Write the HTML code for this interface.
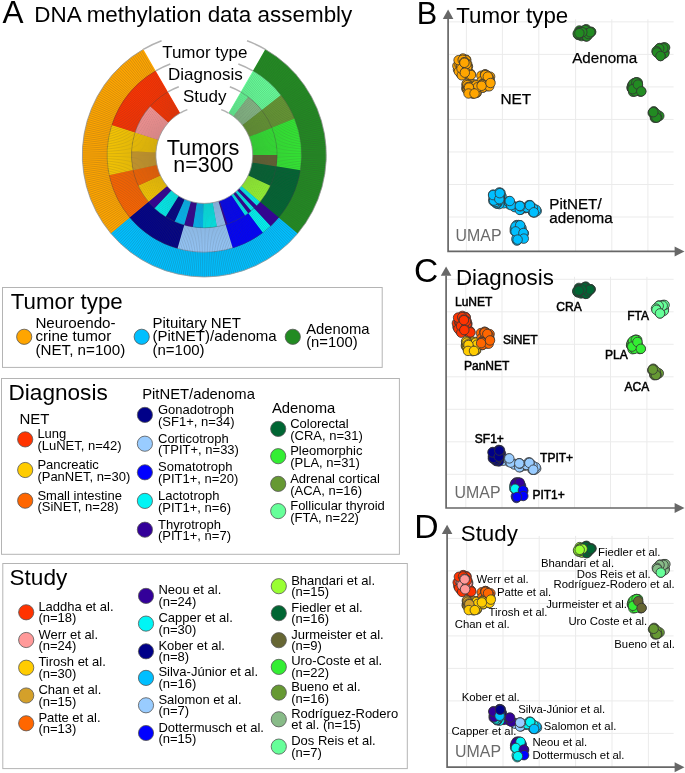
<!DOCTYPE html><html><head><meta charset="utf-8"><title>DNA methylation data assembly</title><style>html,body{margin:0;padding:0;background:#fff;}svg{display:block;}</style></head><body><svg width="685" height="773" viewBox="0 0 685 773" font-family="'Liberation Sans', Arial, Helvetica, sans-serif"><g id="sunburst"><path d="M265.88,50.03A121.7,121.7 0 1 1 142.72,50.03L179.66,113.00A48.699999999999996,48.699999999999996 0 1 0 228.94,113.00Z" fill="#555"/><path d="M265.30,49.34A122.0,122.0 0 0 1 297.41,233.83L278.37,217.71A97.05,97.05 0 0 0 252.82,70.95Z" fill="#228B22"/><path d="M297.76,233.42A122.0,122.0 0 0 1 110.50,233.01L129.68,217.06A97.05,97.05 0 0 0 278.64,217.38Z" fill="#00BFFF"/><path d="M110.84,233.42A122.0,122.0 0 0 1 143.30,49.34L155.77,70.95A97.05,97.05 0 0 0 129.96,217.38Z" fill="#FFA500"/><path d="M252.98,70.69A97.35000000000001,97.35000000000001 0 0 1 281.27,95.40L261.74,110.52A72.64999999999999,72.64999999999999 0 0 0 240.62,92.08Z" fill="#66FF99"/><path d="M281.01,95.07A97.35000000000001,97.35000000000001 0 0 1 294.72,118.93L271.78,128.08A72.64999999999999,72.64999999999999 0 0 0 261.55,110.27Z" fill="#669933"/><path d="M294.56,118.53A97.35000000000001,97.35000000000001 0 0 1 300.38,170.65L276.01,166.68A72.64999999999999,72.64999999999999 0 0 0 271.66,127.78Z" fill="#33EE33"/><path d="M300.45,170.23A97.35000000000001,97.35000000000001 0 0 1 278.60,217.90L259.75,201.94A72.64999999999999,72.64999999999999 0 0 0 276.06,166.36Z" fill="#006633"/><path d="M278.87,217.58A97.35000000000001,97.35000000000001 0 0 1 270.38,226.49L253.61,208.35A72.64999999999999,72.64999999999999 0 0 0 259.95,201.70Z" fill="#330099"/><path d="M270.69,226.20A97.35000000000001,97.35000000000001 0 0 1 262.55,233.00L247.77,213.21A72.64999999999999,72.64999999999999 0 0 0 253.85,208.13Z" fill="#00F5F5"/><path d="M262.89,232.75A97.35000000000001,97.35000000000001 0 0 1 232.36,248.22L225.24,224.57A72.64999999999999,72.64999999999999 0 0 0 248.02,213.02Z" fill="#0000FF"/><path d="M232.76,248.10A97.35000000000001,97.35000000000001 0 0 1 177.06,248.46L183.97,224.75A72.64999999999999,72.64999999999999 0 0 0 225.54,224.48Z" fill="#99CCFF"/><path d="M177.47,248.58A97.35000000000001,97.35000000000001 0 0 1 129.45,217.25L148.44,201.46A72.64999999999999,72.64999999999999 0 0 0 184.27,224.84Z" fill="#000088"/><path d="M129.73,217.58A97.35000000000001,97.35000000000001 0 0 1 108.99,174.82L133.17,169.79A72.64999999999999,72.64999999999999 0 0 0 148.65,201.70Z" fill="#FF6600"/><path d="M109.08,175.24A97.35000000000001,97.35000000000001 0 0 1 111.85,124.51L135.30,132.25A72.64999999999999,72.64999999999999 0 0 0 133.24,170.10Z" fill="#FFCC00"/><path d="M111.71,124.92A97.35000000000001,97.35000000000001 0 0 1 155.62,70.69L167.97,92.08A72.64999999999999,72.64999999999999 0 0 0 135.21,132.55Z" fill="#FF3300"/><path d="M240.78,91.82A72.95,72.95 0 0 1 248.46,96.93L233.60,116.47A48.4,48.4 0 0 0 228.50,113.08Z" fill="#66FF99"/><path d="M248.20,96.74A72.95,72.95 0 0 1 261.98,110.34L242.57,125.37A48.4,48.4 0 0 0 233.43,116.35Z" fill="#88BB88"/><path d="M261.79,110.09A72.95,72.95 0 0 1 272.06,127.97L249.25,137.07A48.4,48.4 0 0 0 242.44,125.20Z" fill="#669933"/><path d="M271.94,127.67A72.95,72.95 0 0 1 277.25,155.32L252.70,155.21A48.4,48.4 0 0 0 249.18,136.87Z" fill="#33EE33"/><path d="M277.25,155.00A72.95,72.95 0 0 1 276.30,166.73L252.07,162.78A48.4,48.4 0 0 0 252.70,155.00Z" fill="#666633"/><path d="M276.35,166.41A72.95,72.95 0 0 1 270.28,186.12L248.08,175.65A48.4,48.4 0 0 0 252.10,162.57Z" fill="#006633"/><path d="M270.42,185.83A72.95,72.95 0 0 1 259.98,202.13L241.24,186.27A48.4,48.4 0 0 0 248.17,175.45Z" fill="#99FF33"/><path d="M260.18,201.89A72.95,72.95 0 0 1 256.55,205.90L238.97,188.77A48.4,48.4 0 0 0 241.38,186.11Z" fill="#00F5F5"/><path d="M256.78,205.68A72.95,72.95 0 0 1 253.82,208.57L237.15,190.54A48.4,48.4 0 0 0 239.12,188.62Z" fill="#330099"/><path d="M254.05,208.35A72.95,72.95 0 0 1 250.95,211.09L235.25,192.21A48.4,48.4 0 0 0 237.31,190.40Z" fill="#00F5F5"/><path d="M251.19,210.88A72.95,72.95 0 0 1 247.95,213.45L233.26,193.78A48.4,48.4 0 0 0 235.41,192.08Z" fill="#330099"/><path d="M248.20,213.26A72.95,72.95 0 0 1 244.83,215.66L231.19,195.24A48.4,48.4 0 0 0 233.43,193.65Z" fill="#00F5F5"/><path d="M245.09,215.48A72.95,72.95 0 0 1 227.15,224.28L219.46,200.97A48.4,48.4 0 0 0 231.36,195.13Z" fill="#0000FF"/><path d="M227.45,224.18A72.95,72.95 0 0 1 225.32,224.85L218.25,201.35A48.4,48.4 0 0 0 219.66,200.90Z" fill="#330099"/><path d="M225.63,224.76A72.95,72.95 0 0 1 216.65,226.90L212.50,202.70A48.4,48.4 0 0 0 218.45,201.29Z" fill="#99CCFF"/><path d="M216.97,226.84A72.95,72.95 0 0 1 202.71,227.93L203.24,203.39A48.4,48.4 0 0 0 212.70,202.66Z" fill="#00F5F5"/><path d="M203.03,227.94A72.95,72.95 0 0 1 192.57,227.00L196.52,202.77A48.4,48.4 0 0 0 203.46,203.39Z" fill="#00BFFF"/><path d="M192.89,227.05A72.95,72.95 0 0 1 183.89,225.04L190.76,201.47A48.4,48.4 0 0 0 196.73,202.80Z" fill="#330099"/><path d="M184.19,225.12A72.95,72.95 0 0 1 174.34,221.51L184.42,199.13A48.4,48.4 0 0 0 190.96,201.53Z" fill="#00BFFF"/><path d="M174.63,221.64A72.95,72.95 0 0 1 165.37,216.70L178.47,195.93A48.4,48.4 0 0 0 184.61,199.22Z" fill="#000088"/><path d="M165.64,216.87A72.95,72.95 0 0 1 154.32,208.13L171.14,190.25A48.4,48.4 0 0 0 178.65,196.05Z" fill="#00F5F5"/><path d="M154.55,208.35A72.95,72.95 0 0 1 148.21,201.65L167.09,185.95A48.4,48.4 0 0 0 171.29,190.40Z" fill="#330099"/><path d="M148.42,201.89A72.95,72.95 0 0 1 138.05,185.54L160.35,175.26A48.4,48.4 0 0 0 167.22,186.11Z" fill="#FFCC00"/><path d="M138.18,185.83A72.95,72.95 0 0 1 132.88,169.86L156.91,164.86A48.4,48.4 0 0 0 160.43,175.45Z" fill="#FF6600"/><path d="M132.94,170.17A72.95,72.95 0 0 1 131.47,150.86L155.98,152.26A48.4,48.4 0 0 0 156.96,165.06Z" fill="#D4A02A"/><path d="M131.45,151.18A72.95,72.95 0 0 1 135.02,132.15L158.33,139.84A48.4,48.4 0 0 0 155.97,152.47Z" fill="#FFCC00"/><path d="M134.92,132.46A72.95,72.95 0 0 1 150.30,105.95L168.47,122.46A48.4,48.4 0 0 0 158.27,140.04Z" fill="#FF9999"/><path d="M150.09,106.19A72.95,72.95 0 0 1 167.82,91.82L180.10,113.08A48.4,48.4 0 0 0 168.33,122.61Z" fill="#FF3300"/><path d="M229.23,113.51L267.13,50.43M229.95,113.95L268.95,51.54M230.66,114.41L270.75,52.68M231.36,114.87L272.52,53.86M232.06,115.35L274.28,55.06M232.75,115.84L276.01,56.30M233.43,116.35L277.72,57.57M234.10,116.86L279.41,58.86M234.76,117.39L281.08,60.19M235.41,117.92L282.72,61.54M236.05,118.47L284.34,62.93M236.69,119.03L285.93,64.34M237.31,119.60L287.50,65.77M237.92,120.18L289.05,67.24M238.52,120.78L290.57,68.73M239.12,121.38L292.06,70.25M239.70,121.99L293.53,71.80M240.27,122.61L294.96,73.37M240.83,123.25L296.37,74.96M241.38,123.89L297.76,76.58M241.91,124.54L299.11,78.22M242.44,125.20L300.44,79.89M242.95,125.87L301.73,81.58M243.46,126.55L303.00,83.29M243.95,127.24L304.24,85.02M244.43,127.94L305.44,86.78M244.89,128.64L306.62,88.55M245.35,129.35L307.76,90.35M245.79,130.07L308.87,92.17M246.22,130.80L309.96,94.00M246.63,131.54L311.00,95.85M247.03,132.28L312.02,97.72M247.42,133.03L313.00,99.61M247.80,133.78L313.95,101.52M248.17,134.55L314.87,103.44M248.52,135.31L315.75,105.38M248.85,136.09L316.60,107.33M249.18,136.87L317.42,109.30M249.49,137.65L318.20,111.28M249.78,138.45L318.94,113.27M250.06,139.24L319.65,115.28M250.33,140.04L320.33,117.30M250.59,140.85L320.97,119.33M250.83,141.66L321.57,121.37M251.05,142.47L322.14,123.42M251.26,143.29L322.68,125.49M251.46,144.11L323.17,127.56M251.64,144.94L323.63,129.63M251.81,145.76L324.06,131.72M251.96,146.60L324.45,133.81M252.10,147.43L324.80,135.91M252.23,148.26L325.11,138.02M252.34,149.10L325.39,140.13M252.43,149.94L325.63,142.25M252.52,150.78L325.84,144.37M252.58,151.62L326.00,146.49M252.63,152.47L326.13,148.62M252.67,153.31L326.23,150.74M252.69,154.16L326.28,152.87M252.70,155.00L326.30,155.00M252.69,155.84L326.28,157.13M252.67,156.69L326.23,159.26M252.63,157.53L326.13,161.38M252.58,158.38L326.00,163.51M252.52,159.22L325.84,165.63M252.43,160.06L325.63,167.75M252.34,160.90L325.39,169.87M252.23,161.74L325.11,171.98M252.10,162.57L324.80,174.09M251.96,163.40L324.45,176.19M251.81,164.24L324.06,178.28M251.64,165.06L323.63,180.37M251.46,165.89L323.17,182.44M251.26,166.71L322.68,184.51M251.05,167.53L322.14,186.58M250.83,168.34L321.57,188.63M250.59,169.15L320.97,190.67M250.33,169.96L320.33,192.70M250.06,170.76L319.65,194.72M249.78,171.55L318.94,196.73M249.49,172.35L318.20,198.72M249.18,173.13L317.42,200.70M248.85,173.91L316.60,202.67M248.52,174.69L315.75,204.62M248.17,175.45L314.87,206.56M247.80,176.22L313.95,208.48M247.42,176.97L313.00,210.39M247.03,177.72L312.02,212.28M246.63,178.46L311.00,214.15M246.22,179.20L309.96,216.00M245.79,179.93L308.87,217.83M245.35,180.65L307.76,219.65M244.89,181.36L306.62,221.45M244.43,182.06L305.44,223.22M243.95,182.76L304.24,224.98M243.46,183.45L303.00,226.71M242.95,184.13L301.73,228.42M242.44,184.80L300.44,230.11M241.91,185.46L299.11,231.78M241.38,186.11L297.76,233.42M240.83,186.75L296.37,235.04M240.27,187.39L294.96,236.63M239.70,188.01L293.53,238.20M239.12,188.62L292.06,239.75M238.52,189.22L290.57,241.27M237.92,189.82L289.05,242.76M237.31,190.40L287.50,244.23M236.69,190.97L285.93,245.66M236.05,191.53L284.34,247.07M235.41,192.08L282.72,248.46M234.76,192.61L281.08,249.81M234.10,193.14L279.41,251.14M233.43,193.65L277.72,252.43M232.75,194.16L276.01,253.70M232.06,194.65L274.28,254.94M231.36,195.13L272.52,256.14M230.66,195.59L270.75,257.32M229.95,196.05L268.95,258.46M229.23,196.49L267.13,259.57M228.50,196.92L265.30,260.66M227.76,197.33L263.45,261.70M227.02,197.73L261.58,262.72M226.27,198.12L259.69,263.70M225.52,198.50L257.78,264.65M224.75,198.87L255.86,265.57M223.99,199.22L253.92,266.45M223.21,199.55L251.97,267.30M222.43,199.88L250.00,268.12M221.65,200.19L248.02,268.90M220.85,200.48L246.03,269.64M220.06,200.76L244.02,270.35M219.26,201.03L242.00,271.03M218.45,201.29L239.97,271.67M217.64,201.53L237.93,272.27M216.83,201.75L235.88,272.84M216.01,201.96L233.81,273.38M215.19,202.16L231.74,273.87M214.36,202.34L229.67,274.33M213.54,202.51L227.58,274.76M212.70,202.66L225.49,275.15M211.87,202.80L223.39,275.50M211.04,202.93L221.28,275.81M210.20,203.04L219.17,276.09M209.36,203.13L217.05,276.33M208.52,203.22L214.93,276.54M207.68,203.28L212.81,276.70M206.83,203.33L210.68,276.83M205.99,203.37L208.56,276.93M205.14,203.39L206.43,276.98M204.30,203.40L204.30,277.00M203.46,203.39L202.17,276.98M202.61,203.37L200.04,276.93M201.77,203.33L197.92,276.83M200.92,203.28L195.79,276.70M200.08,203.22L193.67,276.54M199.24,203.13L191.55,276.33M198.40,203.04L189.43,276.09M197.56,202.93L187.32,275.81M196.73,202.80L185.21,275.50M195.90,202.66L183.11,275.15M195.06,202.51L181.02,274.76M194.24,202.34L178.93,274.33M193.41,202.16L176.86,273.87M192.59,201.96L174.79,273.38M191.77,201.75L172.72,272.84M190.96,201.53L170.67,272.27M190.15,201.29L168.63,271.67M189.34,201.03L166.60,271.03M188.54,200.76L164.58,270.35M187.75,200.48L162.57,269.64M186.95,200.19L160.58,268.90M186.17,199.88L158.60,268.12M185.39,199.55L156.63,267.30M184.61,199.22L154.68,266.45M183.85,198.87L152.74,265.57M183.08,198.50L150.82,264.65M182.33,198.12L148.91,263.70M181.58,197.73L147.02,262.72M180.84,197.33L145.15,261.70M180.10,196.92L143.30,260.66M179.37,196.49L141.47,259.57M178.65,196.05L139.65,258.46M177.94,195.59L137.85,257.32M177.24,195.13L136.08,256.14M176.54,194.65L134.32,254.94M175.85,194.16L132.59,253.70M175.17,193.65L130.88,252.43M174.50,193.14L129.19,251.14M173.84,192.61L127.52,249.81M173.19,192.08L125.88,248.46M172.55,191.53L124.26,247.07M171.91,190.97L122.67,245.66M171.29,190.40L121.10,244.23M170.68,189.82L119.55,242.76M170.08,189.22L118.03,241.27M169.48,188.62L116.54,239.75M168.90,188.01L115.07,238.20M168.33,187.39L113.64,236.63M167.77,186.75L112.23,235.04M167.22,186.11L110.84,233.42M166.69,185.46L109.49,231.78M166.16,184.80L108.16,230.11M165.65,184.13L106.87,228.42M165.14,183.45L105.60,226.71M164.65,182.76L104.36,224.98M164.17,182.06L103.16,223.22M163.71,181.36L101.98,221.45M163.25,180.65L100.84,219.65M162.81,179.93L99.73,217.83M162.38,179.20L98.64,216.00M161.97,178.46L97.60,214.15M161.57,177.72L96.58,212.28M161.18,176.97L95.60,210.39M160.80,176.22L94.65,208.48M160.43,175.45L93.73,206.56M160.08,174.69L92.85,204.62M159.75,173.91L92.00,202.67M159.42,173.13L91.18,200.70M159.11,172.35L90.40,198.72M158.82,171.55L89.66,196.73M158.54,170.76L88.95,194.72M158.27,169.96L88.27,192.70M158.01,169.15L87.63,190.67M157.77,168.34L87.03,188.63M157.55,167.53L86.46,186.58M157.34,166.71L85.92,184.51M157.14,165.89L85.43,182.44M156.96,165.06L84.97,180.37M156.79,164.24L84.54,178.28M156.64,163.40L84.15,176.19M156.50,162.57L83.80,174.09M156.37,161.74L83.49,171.98M156.26,160.90L83.21,169.87M156.17,160.06L82.97,167.75M156.08,159.22L82.76,165.63M156.02,158.38L82.60,163.51M155.97,157.53L82.47,161.38M155.93,156.69L82.37,159.26M155.91,155.84L82.32,157.13M155.90,155.00L82.30,155.00M155.91,154.16L82.32,152.87M155.93,153.31L82.37,150.74M155.97,152.47L82.47,148.62M156.02,151.62L82.60,146.49M156.08,150.78L82.76,144.37M156.17,149.94L82.97,142.25M156.26,149.10L83.21,140.13M156.37,148.26L83.49,138.02M156.50,147.43L83.80,135.91M156.64,146.60L84.15,133.81M156.79,145.76L84.54,131.72M156.96,144.94L84.97,129.63M157.14,144.11L85.43,127.56M157.34,143.29L85.92,125.49M157.55,142.47L86.46,123.42M157.77,141.66L87.03,121.37M158.01,140.85L87.63,119.33M158.27,140.04L88.27,117.30M158.54,139.24L88.95,115.28M158.82,138.45L89.66,113.27M159.11,137.65L90.40,111.28M159.42,136.87L91.18,109.30M159.75,136.09L92.00,107.33M160.08,135.31L92.85,105.38M160.43,134.55L93.73,103.44M160.80,133.78L94.65,101.52M161.18,133.03L95.60,99.61M161.57,132.28L96.58,97.72M161.97,131.54L97.60,95.85M162.38,130.80L98.64,94.00M162.81,130.07L99.73,92.17M163.25,129.35L100.84,90.35M163.71,128.64L101.98,88.55M164.17,127.94L103.16,86.78M164.65,127.24L104.36,85.02M165.14,126.55L105.60,83.29M165.65,125.87L106.87,81.58M166.16,125.20L108.16,79.89M166.69,124.54L109.49,78.22M167.22,123.89L110.84,76.58M167.77,123.25L112.23,74.96M168.33,122.61L113.64,73.37M168.90,121.99L115.07,71.80M169.48,121.38L116.54,70.25M170.08,120.78L118.03,68.73M170.68,120.18L119.55,67.24M171.29,119.60L121.10,65.77M171.91,119.03L122.67,64.34M172.55,118.47L124.26,62.93M173.19,117.92L125.88,61.54M173.84,117.39L127.52,60.19M174.50,116.86L129.19,58.86M175.17,116.35L130.88,57.57M175.85,115.84L132.59,56.30M176.54,115.35L134.32,55.06M177.24,114.87L136.08,53.86M177.94,114.41L137.85,52.68M178.65,113.95L139.65,51.54M179.37,113.51L141.47,50.43" stroke="#404040" stroke-opacity="0.42" stroke-width="0.5" fill="none"/><path d="M252.90,70.82A97.2,97.2 0 1 1 155.70,70.82" stroke="#444" stroke-opacity="0.5" stroke-width="0.6" fill="none"/><path d="M240.70,91.95A72.8,72.8 0 1 1 167.90,91.95" stroke="#444" stroke-opacity="0.5" stroke-width="0.6" fill="none"/><path d="M265.30,49.34A122.0,122.0 0 1 1 143.30,49.34" stroke="#999" stroke-width="0.8" fill="none"/><path d="M228.50,113.08A48.4,48.4 0 1 1 180.10,113.08" stroke="#999" stroke-width="0.8" fill="none"/><path d="M247.03,40.73A122.0,122.0 0 0 1 265.30,49.34" stroke="#b2b2b2" stroke-width="1.5" fill="none"/><path d="M143.30,49.34A122.0,122.0 0 0 1 161.57,40.73" stroke="#b2b2b2" stroke-width="1.5" fill="none"/><path d="M238.34,63.96A97.2,97.2 0 0 1 252.90,70.82" stroke="#b2b2b2" stroke-width="1.5" fill="none"/><path d="M155.70,70.82A97.2,97.2 0 0 1 170.26,63.96" stroke="#b2b2b2" stroke-width="1.5" fill="none"/><path d="M229.80,86.81A72.8,72.8 0 0 1 240.70,91.95" stroke="#b2b2b2" stroke-width="1.5" fill="none"/><path d="M167.90,91.95A72.8,72.8 0 0 1 178.80,86.81" stroke="#b2b2b2" stroke-width="1.5" fill="none"/><path d="M221.25,109.67A48.4,48.4 0 0 1 228.50,113.08" stroke="#b2b2b2" stroke-width="1.5" fill="none"/><path d="M180.10,113.08A48.4,48.4 0 0 1 187.35,109.67" stroke="#b2b2b2" stroke-width="1.5" fill="none"/></g><text x="2.6" y="22.6" font-size="31.5" fill="#000" text-anchor="start" >A</text><text x="34.3" y="22.3" font-size="22.45" fill="#000" text-anchor="start" >DNA methylation data assembly</text><text x="204.8" y="57.5" font-size="17" fill="#000" text-anchor="middle" >Tumor type</text><text x="205.4" y="79.8" font-size="17" fill="#000" text-anchor="middle" >Diagnosis</text><text x="204.7" y="101.5" font-size="17" fill="#000" text-anchor="middle" >Study</text><text x="203.0" y="154.7" font-size="21.7" fill="#000" text-anchor="middle" >Tumors</text><text x="203.4" y="171.8" font-size="21.4" fill="#000" text-anchor="middle" >n=300</text><rect x="2.5" y="287.5" width="379.7" height="79.89999999999998" fill="none" stroke="#b4b4b4" stroke-width="1"/><text x="10.8" y="309.2" font-size="22.3" fill="#000" text-anchor="start" >Tumor type</text><circle cx="24.2" cy="336.8" r="7.6" fill="#FFA500" stroke="#555" stroke-width="0.8"/><text x="35.4" y="327.6" font-size="15.2" fill="#000" text-anchor="start" >Neuroendo-</text><text x="35.4" y="341.1" font-size="15.2" fill="#000" text-anchor="start" >crine tumor</text><text x="35.4" y="354.6" font-size="15.2" fill="#000" text-anchor="start" >(NET, n=100)</text><circle cx="141.7" cy="336.8" r="7.6" fill="#00BFFF" stroke="#555" stroke-width="0.8"/><text x="152.5" y="328.0" font-size="15.0" fill="#000" text-anchor="start" >Pituitary NET</text><text x="152.5" y="341.3" font-size="15.0" fill="#000" text-anchor="start" >(PitNET)/adenoma</text><text x="152.5" y="354.6" font-size="15.0" fill="#000" text-anchor="start" >(n=100)</text><circle cx="292.8" cy="336.8" r="7.6" fill="#228B22" stroke="#555" stroke-width="0.8"/><text x="306.2" y="333.8" font-size="14.8" fill="#000" text-anchor="start" >Adenoma</text><text x="306.2" y="346.6" font-size="14.8" fill="#000" text-anchor="start" >(n=100)</text><rect x="1.5" y="378.5" width="397.9" height="175.79999999999995" fill="none" stroke="#b4b4b4" stroke-width="1"/><text x="8.5" y="399.9" font-size="22.6" fill="#000" text-anchor="start" >Diagnosis</text><text x="19.4" y="423.5" font-size="15" fill="#000" text-anchor="start" >NET</text><text x="142.2" y="398.9" font-size="14.8" fill="#000" text-anchor="start" >PitNET/adenoma</text><text x="272.0" y="413.1" font-size="14.8" fill="#000" text-anchor="start" >Adenoma</text><circle cx="25.2" cy="439.4" r="7.6" fill="#FF3300" stroke="#555" stroke-width="0.8"/><text x="37.4" y="438.2" font-size="13" fill="#000" text-anchor="start" >Lung</text><text x="37.4" y="450.0" font-size="13" fill="#000" text-anchor="start" >(LuNET, n=42)</text><circle cx="25.2" cy="470.0" r="7.6" fill="#FFCC00" stroke="#555" stroke-width="0.8"/><text x="37.4" y="468.8" font-size="13" fill="#000" text-anchor="start" >Pancreatic</text><text x="37.4" y="480.6" font-size="13" fill="#000" text-anchor="start" >(PanNET, n=30)</text><circle cx="25.2" cy="500.7" r="7.6" fill="#FF6600" stroke="#555" stroke-width="0.8"/><text x="37.4" y="499.5" font-size="13" fill="#000" text-anchor="start" >Small intestine</text><text x="37.4" y="511.3" font-size="13" fill="#000" text-anchor="start" >(SiNET, n=28)</text><circle cx="144.9" cy="414.9" r="7.6" fill="#000088" stroke="#555" stroke-width="0.8"/><text x="158.0" y="413.7" font-size="13" fill="#000" text-anchor="start" >Gonadotroph</text><text x="158.0" y="425.5" font-size="13" fill="#000" text-anchor="start" >(SF1+, n=34)</text><circle cx="144.9" cy="443.7" r="7.6" fill="#99CCFF" stroke="#555" stroke-width="0.8"/><text x="158.0" y="442.5" font-size="13" fill="#000" text-anchor="start" >Corticotroph</text><text x="158.0" y="454.3" font-size="13" fill="#000" text-anchor="start" >(TPIT+, n=33)</text><circle cx="144.9" cy="472.3" r="7.6" fill="#0000FF" stroke="#555" stroke-width="0.8"/><text x="158.0" y="471.1" font-size="13" fill="#000" text-anchor="start" >Somatotroph</text><text x="158.0" y="482.90000000000003" font-size="13" fill="#000" text-anchor="start" >(PIT1+, n=20)</text><circle cx="144.9" cy="500.9" r="7.6" fill="#00F5F5" stroke="#555" stroke-width="0.8"/><text x="158.0" y="499.7" font-size="13" fill="#000" text-anchor="start" >Lactotroph</text><text x="158.0" y="511.5" font-size="13" fill="#000" text-anchor="start" >(PIT1+, n=6)</text><circle cx="144.9" cy="529.7" r="7.6" fill="#330099" stroke="#555" stroke-width="0.8"/><text x="158.0" y="528.5" font-size="13" fill="#000" text-anchor="start" >Thyrotroph</text><text x="158.0" y="540.3000000000001" font-size="13" fill="#000" text-anchor="start" >(PIT1+, n=7)</text><circle cx="278.2" cy="428.9" r="7.6" fill="#006633" stroke="#555" stroke-width="0.8"/><text x="290.2" y="427.7" font-size="13" fill="#000" text-anchor="start" >Colorectal</text><text x="290.2" y="439.5" font-size="13" fill="#000" text-anchor="start" >(CRA, n=31)</text><circle cx="278.2" cy="456.2" r="7.6" fill="#33EE33" stroke="#555" stroke-width="0.8"/><text x="290.2" y="455.0" font-size="13" fill="#000" text-anchor="start" >Pleomorphic</text><text x="290.2" y="466.8" font-size="13" fill="#000" text-anchor="start" >(PLA, n=31)</text><circle cx="278.2" cy="483.9" r="7.6" fill="#669933" stroke="#555" stroke-width="0.8"/><text x="290.2" y="482.7" font-size="13" fill="#000" text-anchor="start" >Adrenal cortical</text><text x="290.2" y="494.5" font-size="13" fill="#000" text-anchor="start" >(ACA, n=16)</text><circle cx="278.2" cy="511.1" r="7.6" fill="#66FF99" stroke="#555" stroke-width="0.8"/><text x="290.2" y="509.90000000000003" font-size="13" fill="#000" text-anchor="start" >Follicular thyroid</text><text x="290.2" y="521.7" font-size="13" fill="#000" text-anchor="start" >(FTA, n=22)</text><rect x="2.8" y="563.5" width="404.5" height="205.10000000000002" fill="none" stroke="#b4b4b4" stroke-width="1"/><text x="9.5" y="585.3" font-size="22.6" fill="#000" text-anchor="start" >Study</text><circle cx="26.2" cy="612.3" r="7.6" fill="#FF3300" stroke="#555" stroke-width="0.8"/><text x="38.4" y="610.8" font-size="13" fill="#000" text-anchor="start" >Laddha et al.</text><text x="38.4" y="622.4" font-size="13" fill="#000" text-anchor="start" >(n=18)</text><circle cx="26.2" cy="640.0" r="7.6" fill="#FF9999" stroke="#555" stroke-width="0.8"/><text x="38.4" y="638.5" font-size="13" fill="#000" text-anchor="start" >Werr et al.</text><text x="38.4" y="650.1" font-size="13" fill="#000" text-anchor="start" >(n=24)</text><circle cx="26.2" cy="667.7" r="7.6" fill="#FFCC00" stroke="#555" stroke-width="0.8"/><text x="38.4" y="666.2" font-size="13" fill="#000" text-anchor="start" >Tirosh et al.</text><text x="38.4" y="677.8000000000001" font-size="13" fill="#000" text-anchor="start" >(n=30)</text><circle cx="26.2" cy="695.5" r="7.6" fill="#D4A02A" stroke="#555" stroke-width="0.8"/><text x="38.4" y="694.0" font-size="13" fill="#000" text-anchor="start" >Chan et al.</text><text x="38.4" y="705.6" font-size="13" fill="#000" text-anchor="start" >(n=15)</text><circle cx="26.2" cy="723.3" r="7.6" fill="#FF6600" stroke="#555" stroke-width="0.8"/><text x="38.4" y="721.8" font-size="13" fill="#000" text-anchor="start" >Patte et al.</text><text x="38.4" y="733.4" font-size="13" fill="#000" text-anchor="start" >(n=13)</text><circle cx="146.0" cy="595.9" r="7.6" fill="#330099" stroke="#555" stroke-width="0.8"/><text x="158.4" y="594.4" font-size="13" fill="#000" text-anchor="start" >Neou et al.</text><text x="158.4" y="606.0" font-size="13" fill="#000" text-anchor="start" >(n=24)</text><circle cx="146.0" cy="623.6" r="7.6" fill="#00F5F5" stroke="#555" stroke-width="0.8"/><text x="158.4" y="622.1" font-size="13" fill="#000" text-anchor="start" >Capper et al.</text><text x="158.4" y="633.7" font-size="13" fill="#000" text-anchor="start" >(n=30)</text><circle cx="146.0" cy="651.3" r="7.6" fill="#000088" stroke="#555" stroke-width="0.8"/><text x="158.4" y="649.8" font-size="13" fill="#000" text-anchor="start" >Kober et al.</text><text x="158.4" y="661.4" font-size="13" fill="#000" text-anchor="start" >(n=8)</text><circle cx="146.0" cy="677.9" r="7.6" fill="#00BFFF" stroke="#555" stroke-width="0.8"/><text x="158.4" y="676.4" font-size="13" fill="#000" text-anchor="start" >Silva-Júnior et al.</text><text x="158.4" y="688.0" font-size="13" fill="#000" text-anchor="start" >(n=16)</text><circle cx="146.0" cy="705.3" r="7.6" fill="#99CCFF" stroke="#555" stroke-width="0.8"/><text x="158.4" y="703.8" font-size="13" fill="#000" text-anchor="start" >Salomon et al.</text><text x="158.4" y="715.4" font-size="13" fill="#000" text-anchor="start" >(n=7)</text><circle cx="146.0" cy="733.0" r="7.6" fill="#0000FF" stroke="#555" stroke-width="0.8"/><text x="158.4" y="731.5" font-size="13" fill="#000" text-anchor="start" >Dottermusch et al.</text><text x="158.4" y="743.1" font-size="13" fill="#000" text-anchor="start" >(n=15)</text><circle cx="278.8" cy="586.2" r="7.6" fill="#99FF33" stroke="#555" stroke-width="0.8"/><text x="291.2" y="584.7" font-size="13" fill="#000" text-anchor="start" >Bhandari et al.</text><text x="291.2" y="596.3000000000001" font-size="13" fill="#000" text-anchor="start" >(n=15)</text><circle cx="278.8" cy="613.2" r="7.6" fill="#006633" stroke="#555" stroke-width="0.8"/><text x="291.2" y="611.7" font-size="13" fill="#000" text-anchor="start" >Fiedler et al.</text><text x="291.2" y="623.3000000000001" font-size="13" fill="#000" text-anchor="start" >(n=16)</text><circle cx="278.8" cy="640.2" r="7.6" fill="#666633" stroke="#555" stroke-width="0.8"/><text x="291.2" y="638.7" font-size="13" fill="#000" text-anchor="start" >Jurmeister et al.</text><text x="291.2" y="650.3000000000001" font-size="13" fill="#000" text-anchor="start" >(n=9)</text><circle cx="278.8" cy="666.9" r="7.6" fill="#33EE33" stroke="#555" stroke-width="0.8"/><text x="291.2" y="665.4" font-size="13" fill="#000" text-anchor="start" >Uro-Coste et al.</text><text x="291.2" y="677.0" font-size="13" fill="#000" text-anchor="start" >(n=22)</text><circle cx="278.8" cy="692.6" r="7.6" fill="#669933" stroke="#555" stroke-width="0.8"/><text x="291.2" y="691.1" font-size="13" fill="#000" text-anchor="start" >Bueno et al.</text><text x="291.2" y="702.7" font-size="13" fill="#000" text-anchor="start" >(n=16)</text><circle cx="278.8" cy="719.3" r="7.6" fill="#88BB88" stroke="#555" stroke-width="0.8"/><text x="291.2" y="717.8" font-size="13" fill="#000" text-anchor="start" >Rodríguez-Rodero</text><text x="291.2" y="729.4" font-size="13" fill="#000" text-anchor="start" >et al. (n=15)</text><circle cx="278.8" cy="746.6" r="7.6" fill="#66FF99" stroke="#555" stroke-width="0.8"/><text x="291.2" y="745.1" font-size="13" fill="#000" text-anchor="start" >Dos Reis et al.</text><text x="291.2" y="756.7" font-size="13" fill="#000" text-anchor="start" >(n=7)</text><path d="M466.4,19.35V251.4M502.4,19.35V251.4M538.8,19.35V251.4M575.6,19.35V251.4M611.8,19.35V251.4M647.9,19.35V251.4M448.1,21.85H673.6M448.1,54.38H673.6M448.1,86.91H673.6M448.1,119.44H673.6M448.1,151.97H673.6M448.1,184.5H673.6M448.1,217.03H673.6" stroke="#ebebeb" stroke-width="1" fill="none"/><path d="M448.1,18.6V251.4H675" stroke="#676767" stroke-width="1.7" fill="none"/><path d="M448.1,9.5L453.40000000000003,18.900000000000002L442.8,18.900000000000002Z" fill="#676767"/><path d="M684.5,251.4L674.6,246.4L674.6,256.4Z" fill="#676767"/><text x="416.8" y="23.9" font-size="30.6" fill="#000" text-anchor="start" >B</text><text x="456.3" y="22.8" font-size="22.3" fill="#000" text-anchor="start" >Tumor type</text><path d="M465.8,276.8V508.0M502.0,276.8V508.0M538.7,276.8V508.0M574.5,276.8V508.0M610.5,276.8V508.0M646.9,276.8V508.0M446.1,279.3H673.6M446.1,311.8H673.6M446.1,344.3H673.6M446.1,376.8H673.6M446.1,409.3H673.6M446.1,441.8H673.6M446.1,474.3H673.6" stroke="#ebebeb" stroke-width="1" fill="none"/><path d="M446.1,275.4V508.0H675" stroke="#676767" stroke-width="1.7" fill="none"/><path d="M446.1,266.4L451.40000000000003,275.7L440.8,275.7Z" fill="#676767"/><path d="M684.5,508.0L674.6,503.0L674.6,513.0Z" fill="#676767"/><text x="414.0" y="282.0" font-size="33.5" fill="#000" text-anchor="start" >C</text><text x="455.9" y="284.8" font-size="22.3" fill="#000" text-anchor="start" >Diagnosis</text><path d="M466.6,535.9V767.2M503.0,535.9V767.2M539.2,535.9V767.2M575.6,535.9V767.2M612.0,535.9V767.2M648.4,535.9V767.2M447.1,538.4H673.6M447.1,570.9H673.6M447.1,603.4H673.6M447.1,635.9H673.6M447.1,668.4H673.6M447.1,700.9H673.6M447.1,733.4H673.6" stroke="#ebebeb" stroke-width="1" fill="none"/><path d="M447.1,533.7V767.2H675" stroke="#676767" stroke-width="1.7" fill="none"/><path d="M447.1,524.8L452.40000000000003,534.0L441.8,534.0Z" fill="#676767"/><path d="M684.5,767.2L674.6,762.2L674.6,772.2Z" fill="#676767"/><text x="414.3" y="538.1" font-size="33.7" fill="#000" text-anchor="start" >D</text><text x="460.8" y="540.6" font-size="22.3" fill="#000" text-anchor="start" >Study</text><g stroke="#333" stroke-width="0.8"><circle cx="655.0" cy="115.9" r="4.75" fill="#228B22"/><circle cx="653.8" cy="111.3" r="4.75" fill="#228B22"/><circle cx="483.2" cy="76.7" r="4.75" fill="#FFA500"/><circle cx="579.4" cy="30.5" r="4.75" fill="#228B22"/><circle cx="467.9" cy="66.5" r="4.75" fill="#FFA500"/><circle cx="521.8" cy="233.5" r="4.75" fill="#00BFFF"/><circle cx="638.1" cy="90.5" r="4.75" fill="#228B22"/><circle cx="474.3" cy="86.1" r="4.75" fill="#FFA500"/><circle cx="663.4" cy="47.6" r="4.75" fill="#228B22"/><circle cx="493.4" cy="198.9" r="4.75" fill="#00BFFF"/><circle cx="476.7" cy="92.8" r="4.75" fill="#FFA500"/><circle cx="475.6" cy="85.6" r="4.75" fill="#FFA500"/><circle cx="634.0" cy="90.2" r="4.75" fill="#228B22"/><circle cx="521.0" cy="235.1" r="4.75" fill="#00BFFF"/><circle cx="486.2" cy="81.4" r="4.75" fill="#FFA500"/><circle cx="509.4" cy="204.4" r="4.75" fill="#00BFFF"/><circle cx="462.9" cy="58.5" r="4.75" fill="#FFA500"/><circle cx="495.9" cy="202.8" r="4.75" fill="#00BFFF"/><circle cx="466.8" cy="84.7" r="4.75" fill="#FFA500"/><circle cx="465.5" cy="61.8" r="4.75" fill="#FFA500"/><circle cx="582.7" cy="35.0" r="4.75" fill="#228B22"/><circle cx="499.0" cy="199.9" r="4.75" fill="#00BFFF"/><circle cx="461.9" cy="69.8" r="4.75" fill="#FFA500"/><circle cx="588.4" cy="34.5" r="4.75" fill="#228B22"/><circle cx="664.4" cy="52.2" r="4.75" fill="#228B22"/><circle cx="487.2" cy="77.3" r="4.75" fill="#FFA500"/><circle cx="458.0" cy="69.5" r="4.75" fill="#FFA500"/><circle cx="657.5" cy="116.5" r="4.75" fill="#228B22"/><circle cx="632.1" cy="87.3" r="4.75" fill="#228B22"/><circle cx="659.2" cy="53.0" r="4.75" fill="#228B22"/><circle cx="469.3" cy="87.4" r="4.75" fill="#FFA500"/><circle cx="516.9" cy="232.9" r="4.75" fill="#00BFFF"/><circle cx="636.5" cy="82.4" r="4.75" fill="#228B22"/><circle cx="521.9" cy="237.1" r="4.75" fill="#00BFFF"/><circle cx="640.2" cy="91.6" r="4.75" fill="#228B22"/><circle cx="634.3" cy="83.3" r="4.75" fill="#228B22"/><circle cx="518.2" cy="237.1" r="4.75" fill="#00BFFF"/><circle cx="467.8" cy="87.6" r="4.75" fill="#FFA500"/><circle cx="581.6" cy="36.1" r="4.75" fill="#228B22"/><circle cx="501.6" cy="196.4" r="4.75" fill="#00BFFF"/><circle cx="634.4" cy="91.1" r="4.75" fill="#228B22"/><circle cx="490.0" cy="81.2" r="4.75" fill="#FFA500"/><circle cx="631.6" cy="88.1" r="4.75" fill="#228B22"/><circle cx="493.4" cy="201.1" r="4.75" fill="#00BFFF"/><circle cx="659.7" cy="48.0" r="4.75" fill="#228B22"/><circle cx="533.3" cy="208.8" r="4.75" fill="#00BFFF"/><circle cx="494.6" cy="198.6" r="4.75" fill="#00BFFF"/><circle cx="634.4" cy="83.5" r="4.75" fill="#228B22"/><circle cx="525.4" cy="208.1" r="4.75" fill="#00BFFF"/><circle cx="526.0" cy="207.9" r="4.75" fill="#00BFFF"/><circle cx="591.0" cy="31.9" r="4.75" fill="#228B22"/><circle cx="654.7" cy="113.5" r="4.75" fill="#228B22"/><circle cx="662.8" cy="54.1" r="4.75" fill="#228B22"/><circle cx="637.4" cy="82.9" r="4.75" fill="#228B22"/><circle cx="489.1" cy="82.0" r="4.75" fill="#FFA500"/><circle cx="586.4" cy="30.7" r="4.75" fill="#228B22"/><circle cx="503.7" cy="203.3" r="4.75" fill="#00BFFF"/><circle cx="497.4" cy="202.0" r="4.75" fill="#00BFFF"/><circle cx="533.0" cy="209.6" r="4.75" fill="#00BFFF"/><circle cx="634.6" cy="83.9" r="4.75" fill="#228B22"/><circle cx="635.8" cy="82.5" r="4.75" fill="#228B22"/><circle cx="464.0" cy="73.4" r="4.75" fill="#FFA500"/><circle cx="586.1" cy="36.5" r="4.75" fill="#228B22"/><circle cx="500.2" cy="195.1" r="4.75" fill="#00BFFF"/><circle cx="481.4" cy="75.7" r="4.75" fill="#FFA500"/><circle cx="459.7" cy="65.0" r="4.75" fill="#FFA500"/><circle cx="508.4" cy="201.9" r="4.75" fill="#00BFFF"/><circle cx="533.2" cy="212.1" r="4.75" fill="#00BFFF"/><circle cx="661.0" cy="55.0" r="4.75" fill="#228B22"/><circle cx="638.4" cy="90.2" r="4.75" fill="#228B22"/><circle cx="459.4" cy="64.9" r="4.75" fill="#FFA500"/><circle cx="499.2" cy="198.1" r="4.75" fill="#00BFFF"/><circle cx="523.8" cy="233.3" r="4.75" fill="#00BFFF"/><circle cx="485.3" cy="74.5" r="4.75" fill="#FFA500"/><circle cx="464.6" cy="73.7" r="4.75" fill="#FFA500"/><circle cx="499.3" cy="203.2" r="4.75" fill="#00BFFF"/><circle cx="533.1" cy="212.2" r="4.75" fill="#00BFFF"/><circle cx="637.7" cy="82.6" r="4.75" fill="#228B22"/><circle cx="489.1" cy="77.7" r="4.75" fill="#FFA500"/><circle cx="659.2" cy="53.2" r="4.75" fill="#228B22"/><circle cx="632.3" cy="85.1" r="4.75" fill="#228B22"/><circle cx="579.4" cy="32.1" r="4.75" fill="#228B22"/><circle cx="663.1" cy="52.3" r="4.75" fill="#228B22"/><circle cx="522.8" cy="238.1" r="4.75" fill="#00BFFF"/><circle cx="463.3" cy="63.3" r="4.75" fill="#FFA500"/><circle cx="654.1" cy="113.0" r="4.75" fill="#228B22"/><circle cx="531.4" cy="208.4" r="4.75" fill="#00BFFF"/><circle cx="640.1" cy="90.6" r="4.75" fill="#228B22"/><circle cx="499.3" cy="196.6" r="4.75" fill="#00BFFF"/><circle cx="654.9" cy="117.8" r="4.75" fill="#228B22"/><circle cx="460.1" cy="64.6" r="4.75" fill="#FFA500"/><circle cx="580.1" cy="32.7" r="4.75" fill="#228B22"/><circle cx="659.3" cy="115.9" r="4.75" fill="#228B22"/><circle cx="522.4" cy="237.4" r="4.75" fill="#00BFFF"/><circle cx="460.9" cy="73.8" r="4.75" fill="#FFA500"/><circle cx="514.5" cy="206.4" r="4.75" fill="#00BFFF"/><circle cx="520.9" cy="209.7" r="4.75" fill="#00BFFF"/><circle cx="499.0" cy="202.3" r="4.75" fill="#00BFFF"/><circle cx="664.4" cy="47.6" r="4.75" fill="#228B22"/><circle cx="522.4" cy="235.1" r="4.75" fill="#00BFFF"/><circle cx="635.4" cy="83.5" r="4.75" fill="#228B22"/><circle cx="472.8" cy="92.7" r="4.75" fill="#FFA500"/><circle cx="457.4" cy="65.8" r="4.75" fill="#FFA500"/><circle cx="482.2" cy="85.6" r="4.75" fill="#FFA500"/><circle cx="631.8" cy="86.9" r="4.75" fill="#228B22"/><circle cx="514.8" cy="231.2" r="4.75" fill="#00BFFF"/><circle cx="493.2" cy="194.6" r="4.75" fill="#00BFFF"/><circle cx="500.0" cy="195.1" r="4.75" fill="#00BFFF"/><circle cx="534.7" cy="212.4" r="4.75" fill="#00BFFF"/><circle cx="654.1" cy="112.8" r="4.75" fill="#228B22"/><circle cx="462.2" cy="70.4" r="4.75" fill="#FFA500"/><circle cx="635.1" cy="90.5" r="4.75" fill="#228B22"/><circle cx="637.9" cy="85.9" r="4.75" fill="#228B22"/><circle cx="656.0" cy="115.8" r="4.75" fill="#228B22"/><circle cx="499.6" cy="197.0" r="4.75" fill="#00BFFF"/><circle cx="522.2" cy="233.4" r="4.75" fill="#00BFFF"/><circle cx="657.5" cy="50.5" r="4.75" fill="#228B22"/><circle cx="473.0" cy="91.1" r="4.75" fill="#FFA500"/><circle cx="471.9" cy="84.6" r="4.75" fill="#FFA500"/><circle cx="664.3" cy="53.4" r="4.75" fill="#228B22"/><circle cx="516.9" cy="240.6" r="4.75" fill="#00BFFF"/><circle cx="463.2" cy="70.3" r="4.75" fill="#FFA500"/><circle cx="665.1" cy="47.6" r="4.75" fill="#228B22"/><circle cx="459.5" cy="64.5" r="4.75" fill="#FFA500"/><circle cx="660.6" cy="56.0" r="4.75" fill="#228B22"/><circle cx="486.9" cy="86.2" r="4.75" fill="#FFA500"/><circle cx="641.1" cy="91.4" r="4.75" fill="#228B22"/><circle cx="485.0" cy="74.4" r="4.75" fill="#FFA500"/><circle cx="466.1" cy="59.7" r="4.75" fill="#FFA500"/><circle cx="471.5" cy="83.5" r="4.75" fill="#FFA500"/><circle cx="657.6" cy="51.4" r="4.75" fill="#228B22"/><circle cx="465.1" cy="72.7" r="4.75" fill="#FFA500"/><circle cx="531.3" cy="209.0" r="4.75" fill="#00BFFF"/><circle cx="657.0" cy="117.6" r="4.75" fill="#228B22"/><circle cx="475.6" cy="84.5" r="4.75" fill="#FFA500"/><circle cx="586.8" cy="34.4" r="4.75" fill="#228B22"/><circle cx="495.8" cy="202.4" r="4.75" fill="#00BFFF"/><circle cx="500.0" cy="200.0" r="4.75" fill="#00BFFF"/><circle cx="521.4" cy="230.1" r="4.75" fill="#00BFFF"/><circle cx="516.6" cy="225.1" r="4.75" fill="#00BFFF"/><circle cx="514.7" cy="207.1" r="4.75" fill="#00BFFF"/><circle cx="519.6" cy="205.8" r="4.75" fill="#00BFFF"/><circle cx="494.8" cy="199.5" r="4.75" fill="#00BFFF"/><circle cx="490.1" cy="76.7" r="4.75" fill="#FFA500"/><circle cx="481.7" cy="81.2" r="4.75" fill="#FFA500"/><circle cx="481.1" cy="85.3" r="4.75" fill="#FFA500"/><circle cx="536.7" cy="211.1" r="4.75" fill="#00BFFF"/><circle cx="466.1" cy="60.2" r="4.75" fill="#FFA500"/><circle cx="483.0" cy="87.6" r="4.75" fill="#FFA500"/><circle cx="487.4" cy="76.1" r="4.75" fill="#FFA500"/><circle cx="587.6" cy="32.8" r="4.75" fill="#228B22"/><circle cx="481.4" cy="85.6" r="4.75" fill="#FFA500"/><circle cx="529.7" cy="206.7" r="4.75" fill="#00BFFF"/><circle cx="496.5" cy="202.5" r="4.75" fill="#00BFFF"/><circle cx="473.9" cy="90.5" r="4.75" fill="#FFA500"/><circle cx="520.3" cy="233.5" r="4.75" fill="#00BFFF"/><circle cx="458.9" cy="71.5" r="4.75" fill="#FFA500"/><circle cx="580.7" cy="32.0" r="4.75" fill="#228B22"/><circle cx="499.3" cy="204.1" r="4.75" fill="#00BFFF"/><circle cx="519.8" cy="225.4" r="4.75" fill="#00BFFF"/><circle cx="470.4" cy="74.0" r="4.75" fill="#FFA500"/><circle cx="586.2" cy="29.2" r="4.75" fill="#228B22"/><circle cx="632.2" cy="88.5" r="4.75" fill="#228B22"/><circle cx="476.2" cy="92.6" r="4.75" fill="#FFA500"/><circle cx="585.1" cy="30.0" r="4.75" fill="#228B22"/><circle cx="633.4" cy="83.7" r="4.75" fill="#228B22"/><circle cx="465.1" cy="69.3" r="4.75" fill="#FFA500"/><circle cx="652.7" cy="112.8" r="4.75" fill="#228B22"/><circle cx="591.1" cy="31.9" r="4.75" fill="#228B22"/><circle cx="485.8" cy="80.1" r="4.75" fill="#FFA500"/><circle cx="520.0" cy="225.8" r="4.75" fill="#00BFFF"/><circle cx="581.0" cy="31.9" r="4.75" fill="#228B22"/><circle cx="657.9" cy="52.8" r="4.75" fill="#228B22"/><circle cx="497.3" cy="201.6" r="4.75" fill="#00BFFF"/><circle cx="468.2" cy="84.9" r="4.75" fill="#FFA500"/><circle cx="658.4" cy="52.6" r="4.75" fill="#228B22"/><circle cx="470.3" cy="73.7" r="4.75" fill="#FFA500"/><circle cx="463.5" cy="62.6" r="4.75" fill="#FFA500"/><circle cx="578.6" cy="35.0" r="4.75" fill="#228B22"/><circle cx="496.9" cy="203.1" r="4.75" fill="#00BFFF"/><circle cx="585.1" cy="30.1" r="4.75" fill="#228B22"/><circle cx="589.1" cy="33.6" r="4.75" fill="#228B22"/><circle cx="476.1" cy="85.3" r="4.75" fill="#FFA500"/><circle cx="635.0" cy="90.4" r="4.75" fill="#228B22"/><circle cx="461.0" cy="65.9" r="4.75" fill="#FFA500"/><circle cx="578.7" cy="32.9" r="4.75" fill="#228B22"/><circle cx="482.2" cy="84.2" r="4.75" fill="#FFA500"/><circle cx="522.2" cy="237.3" r="4.75" fill="#00BFFF"/><circle cx="486.7" cy="75.3" r="4.75" fill="#FFA500"/><circle cx="521.5" cy="228.1" r="4.75" fill="#00BFFF"/><circle cx="458.6" cy="60.2" r="4.75" fill="#FFA500"/><circle cx="536.1" cy="209.8" r="4.75" fill="#00BFFF"/><circle cx="467.8" cy="88.2" r="4.75" fill="#FFA500"/><circle cx="582.0" cy="34.4" r="4.75" fill="#228B22"/><circle cx="494.4" cy="200.0" r="4.75" fill="#00BFFF"/><circle cx="587.2" cy="34.8" r="4.75" fill="#228B22"/><circle cx="587.4" cy="33.3" r="4.75" fill="#228B22"/><circle cx="520.0" cy="229.7" r="4.75" fill="#00BFFF"/><circle cx="533.0" cy="208.1" r="4.75" fill="#00BFFF"/><circle cx="516.1" cy="228.8" r="4.75" fill="#00BFFF"/><circle cx="469.8" cy="75.6" r="4.75" fill="#FFA500"/><circle cx="518.4" cy="225.0" r="4.75" fill="#00BFFF"/><circle cx="494.5" cy="197.5" r="4.75" fill="#00BFFF"/><circle cx="659.6" cy="53.8" r="4.75" fill="#228B22"/><circle cx="637.9" cy="86.5" r="4.75" fill="#228B22"/><circle cx="509.2" cy="201.2" r="4.75" fill="#00BFFF"/><circle cx="466.8" cy="88.7" r="4.75" fill="#FFA500"/><circle cx="482.4" cy="84.8" r="4.75" fill="#FFA500"/><circle cx="466.4" cy="88.4" r="4.75" fill="#FFA500"/><circle cx="467.0" cy="66.6" r="4.75" fill="#FFA500"/><circle cx="465.5" cy="62.7" r="4.75" fill="#FFA500"/><circle cx="496.9" cy="203.7" r="4.75" fill="#00BFFF"/><circle cx="482.8" cy="87.5" r="4.75" fill="#FFA500"/><circle cx="653.6" cy="112.6" r="4.75" fill="#228B22"/><circle cx="580.4" cy="31.9" r="4.75" fill="#228B22"/><circle cx="520.1" cy="209.5" r="4.75" fill="#00BFFF"/><circle cx="528.9" cy="205.2" r="4.75" fill="#00BFFF"/><circle cx="466.4" cy="69.8" r="4.75" fill="#FFA500"/><circle cx="656.1" cy="113.7" r="4.75" fill="#228B22"/><circle cx="519.8" cy="209.9" r="4.75" fill="#00BFFF"/><circle cx="529.6" cy="205.6" r="4.75" fill="#00BFFF"/><circle cx="466.0" cy="66.9" r="4.75" fill="#FFA500"/><circle cx="530.0" cy="205.1" r="4.75" fill="#00BFFF"/><circle cx="461.8" cy="75.3" r="4.75" fill="#FFA500"/><circle cx="477.5" cy="87.3" r="4.75" fill="#FFA500"/><circle cx="467.2" cy="64.1" r="4.75" fill="#FFA500"/><circle cx="586.8" cy="36.4" r="4.75" fill="#228B22"/><circle cx="461.5" cy="68.6" r="4.75" fill="#FFA500"/><circle cx="633.1" cy="91.8" r="4.75" fill="#228B22"/><circle cx="462.7" cy="59.8" r="4.75" fill="#FFA500"/><circle cx="655.1" cy="117.2" r="4.75" fill="#228B22"/><circle cx="578.1" cy="34.7" r="4.75" fill="#228B22"/><circle cx="663.2" cy="48.3" r="4.75" fill="#228B22"/><circle cx="467.4" cy="90.1" r="4.75" fill="#FFA500"/><circle cx="526.9" cy="207.5" r="4.75" fill="#00BFFF"/><circle cx="466.9" cy="85.9" r="4.75" fill="#FFA500"/><circle cx="636.3" cy="82.6" r="4.75" fill="#228B22"/><circle cx="516.7" cy="232.6" r="4.75" fill="#00BFFF"/><circle cx="634.9" cy="91.4" r="4.75" fill="#228B22"/><circle cx="467.2" cy="66.9" r="4.75" fill="#FFA500"/><circle cx="488.9" cy="78.0" r="4.75" fill="#FFA500"/><circle cx="520.6" cy="206.3" r="4.75" fill="#00BFFF"/><circle cx="496.4" cy="203.1" r="4.75" fill="#00BFFF"/><circle cx="485.2" cy="75.2" r="4.75" fill="#FFA500"/><circle cx="473.1" cy="93.7" r="4.75" fill="#FFA500"/><circle cx="659.2" cy="48.5" r="4.75" fill="#228B22"/><circle cx="472.0" cy="92.5" r="4.75" fill="#FFA500"/><circle cx="467.3" cy="87.9" r="4.75" fill="#FFA500"/><circle cx="499.2" cy="192.5" r="4.75" fill="#00BFFF"/><circle cx="495.9" cy="201.9" r="4.75" fill="#00BFFF"/><circle cx="489.2" cy="86.3" r="4.75" fill="#FFA500"/><circle cx="466.6" cy="83.9" r="4.75" fill="#FFA500"/><circle cx="519.0" cy="226.5" r="4.75" fill="#00BFFF"/><circle cx="656.5" cy="51.2" r="4.75" fill="#228B22"/><circle cx="467.2" cy="85.1" r="4.75" fill="#FFA500"/><circle cx="465.4" cy="71.8" r="4.75" fill="#FFA500"/><circle cx="632.7" cy="89.2" r="4.75" fill="#228B22"/><circle cx="466.4" cy="64.0" r="4.75" fill="#FFA500"/><circle cx="588.6" cy="34.1" r="4.75" fill="#228B22"/><circle cx="499.8" cy="200.1" r="4.75" fill="#00BFFF"/><circle cx="494.0" cy="200.6" r="4.75" fill="#00BFFF"/><circle cx="516.4" cy="238.8" r="4.75" fill="#00BFFF"/><circle cx="656.4" cy="117.5" r="4.75" fill="#228B22"/><circle cx="464.1" cy="62.2" r="4.75" fill="#FFA500"/><circle cx="514.8" cy="228.6" r="4.75" fill="#00BFFF"/><circle cx="520.5" cy="228.6" r="4.75" fill="#00BFFF"/><circle cx="493.1" cy="195.1" r="4.75" fill="#00BFFF"/><circle cx="511.2" cy="205.2" r="4.75" fill="#00BFFF"/><circle cx="577.7" cy="33.6" r="4.75" fill="#228B22"/><circle cx="657.0" cy="52.5" r="4.75" fill="#228B22"/><circle cx="468.2" cy="87.0" r="4.75" fill="#FFA500"/><circle cx="500.5" cy="192.8" r="4.75" fill="#00BFFF"/><circle cx="471.0" cy="75.0" r="4.75" fill="#FFA500"/><circle cx="464.4" cy="62.8" r="4.75" fill="#FFA500"/><circle cx="464.8" cy="72.7" r="4.75" fill="#FFA500"/><circle cx="469.0" cy="87.6" r="4.75" fill="#FFA500"/><circle cx="468.5" cy="93.5" r="4.75" fill="#FFA500"/><circle cx="474.5" cy="93.5" r="4.75" fill="#FFA500"/><circle cx="487.8" cy="76.6" r="4.75" fill="#FFA500"/><circle cx="481.6" cy="85.8" r="4.75" fill="#FFA500"/><circle cx="490.5" cy="83.0" r="4.75" fill="#FFA500"/><circle cx="590.2" cy="32.3" r="4.75" fill="#228B22"/><circle cx="582.3" cy="32.2" r="4.75" fill="#228B22"/><circle cx="579.4" cy="33.2" r="4.75" fill="#228B22"/><circle cx="660.5" cy="56.0" r="4.75" fill="#228B22"/><circle cx="637.9" cy="84.6" r="4.75" fill="#228B22"/><circle cx="641.3" cy="91.4" r="4.75" fill="#228B22"/><circle cx="653.3" cy="112.2" r="4.75" fill="#228B22"/><circle cx="499.3" cy="199.2" r="4.75" fill="#00BFFF"/><circle cx="499.8" cy="193.2" r="4.75" fill="#00BFFF"/><circle cx="509.8" cy="201.0" r="4.75" fill="#00BFFF"/><circle cx="519.8" cy="206.0" r="4.75" fill="#00BFFF"/><circle cx="529.9" cy="205.5" r="4.75" fill="#00BFFF"/><circle cx="533.8" cy="212.3" r="4.75" fill="#00BFFF"/><circle cx="515.5" cy="226.5" r="4.75" fill="#00BFFF"/><circle cx="520.2" cy="225.3" r="4.75" fill="#00BFFF"/><circle cx="515.6" cy="231.4" r="4.75" fill="#00BFFF"/><circle cx="523.4" cy="233.0" r="4.75" fill="#00BFFF"/><circle cx="523.8" cy="238.6" r="4.75" fill="#00BFFF"/><circle cx="517.6" cy="239.6" r="4.75" fill="#00BFFF"/></g><g stroke="#333" stroke-width="0.8"><circle cx="654.5" cy="373.3" r="4.75" fill="#669933"/><circle cx="653.3" cy="368.7" r="4.75" fill="#669933"/><circle cx="482.7" cy="334.1" r="4.75" fill="#FF6600"/><circle cx="578.9" cy="287.9" r="4.75" fill="#006633"/><circle cx="467.4" cy="323.9" r="4.75" fill="#FF3300"/><circle cx="521.3" cy="490.9" r="4.75" fill="#0000FF"/><circle cx="637.6" cy="347.9" r="4.75" fill="#33EE33"/><circle cx="473.8" cy="343.5" r="4.75" fill="#FFCC00"/><circle cx="662.9" cy="305.0" r="4.75" fill="#66FF99"/><circle cx="492.9" cy="456.3" r="4.75" fill="#000088"/><circle cx="476.2" cy="350.2" r="4.75" fill="#FFCC00"/><circle cx="475.1" cy="343.0" r="4.75" fill="#FFCC00"/><circle cx="633.5" cy="347.6" r="4.75" fill="#33EE33"/><circle cx="520.5" cy="492.5" r="4.75" fill="#0000FF"/><circle cx="485.7" cy="338.8" r="4.75" fill="#FF6600"/><circle cx="508.9" cy="461.8" r="4.75" fill="#99CCFF"/><circle cx="462.4" cy="315.9" r="4.75" fill="#FF3300"/><circle cx="495.4" cy="460.2" r="4.75" fill="#000088"/><circle cx="466.3" cy="342.1" r="4.75" fill="#FFCC00"/><circle cx="465.0" cy="319.2" r="4.75" fill="#FF3300"/><circle cx="582.2" cy="292.4" r="4.75" fill="#006633"/><circle cx="498.5" cy="457.3" r="4.75" fill="#000088"/><circle cx="461.4" cy="327.2" r="4.75" fill="#FF3300"/><circle cx="587.9" cy="291.9" r="4.75" fill="#006633"/><circle cx="663.9" cy="309.6" r="4.75" fill="#66FF99"/><circle cx="486.7" cy="334.7" r="4.75" fill="#FF6600"/><circle cx="457.5" cy="326.9" r="4.75" fill="#FF3300"/><circle cx="657.0" cy="373.9" r="4.75" fill="#669933"/><circle cx="631.6" cy="344.7" r="4.75" fill="#33EE33"/><circle cx="658.7" cy="310.4" r="4.75" fill="#66FF99"/><circle cx="468.8" cy="344.8" r="4.75" fill="#FFCC00"/><circle cx="516.4" cy="490.3" r="4.75" fill="#00F5F5"/><circle cx="636.0" cy="339.8" r="4.75" fill="#33EE33"/><circle cx="521.4" cy="494.5" r="4.75" fill="#0000FF"/><circle cx="639.7" cy="349.0" r="4.75" fill="#33EE33"/><circle cx="633.8" cy="340.7" r="4.75" fill="#33EE33"/><circle cx="517.7" cy="494.5" r="4.75" fill="#0000FF"/><circle cx="467.3" cy="345.0" r="4.75" fill="#FFCC00"/><circle cx="581.1" cy="293.5" r="4.75" fill="#006633"/><circle cx="501.1" cy="453.8" r="4.75" fill="#000088"/><circle cx="633.9" cy="348.5" r="4.75" fill="#33EE33"/><circle cx="489.5" cy="338.6" r="4.75" fill="#FF6600"/><circle cx="631.1" cy="345.5" r="4.75" fill="#33EE33"/><circle cx="492.9" cy="458.5" r="4.75" fill="#000088"/><circle cx="659.2" cy="305.4" r="4.75" fill="#66FF99"/><circle cx="532.8" cy="466.2" r="4.75" fill="#99CCFF"/><circle cx="494.1" cy="456.0" r="4.75" fill="#000088"/><circle cx="633.9" cy="340.9" r="4.75" fill="#33EE33"/><circle cx="524.9" cy="465.5" r="4.75" fill="#99CCFF"/><circle cx="525.5" cy="465.3" r="4.75" fill="#99CCFF"/><circle cx="590.5" cy="289.3" r="4.75" fill="#006633"/><circle cx="654.2" cy="370.9" r="4.75" fill="#669933"/><circle cx="662.3" cy="311.5" r="4.75" fill="#66FF99"/><circle cx="636.9" cy="340.3" r="4.75" fill="#33EE33"/><circle cx="488.6" cy="339.4" r="4.75" fill="#FF6600"/><circle cx="585.9" cy="288.1" r="4.75" fill="#006633"/><circle cx="503.2" cy="460.7" r="4.75" fill="#99CCFF"/><circle cx="496.9" cy="459.4" r="4.75" fill="#000088"/><circle cx="532.5" cy="467.0" r="4.75" fill="#99CCFF"/><circle cx="634.1" cy="341.3" r="4.75" fill="#33EE33"/><circle cx="635.3" cy="339.9" r="4.75" fill="#33EE33"/><circle cx="463.5" cy="330.8" r="4.75" fill="#FF3300"/><circle cx="585.6" cy="293.9" r="4.75" fill="#006633"/><circle cx="499.7" cy="452.5" r="4.75" fill="#000088"/><circle cx="480.9" cy="333.1" r="4.75" fill="#FF6600"/><circle cx="459.2" cy="322.4" r="4.75" fill="#FF3300"/><circle cx="507.9" cy="459.3" r="4.75" fill="#99CCFF"/><circle cx="532.7" cy="469.5" r="4.75" fill="#99CCFF"/><circle cx="660.5" cy="312.4" r="4.75" fill="#66FF99"/><circle cx="637.9" cy="347.6" r="4.75" fill="#33EE33"/><circle cx="458.9" cy="322.3" r="4.75" fill="#FF3300"/><circle cx="498.7" cy="455.5" r="4.75" fill="#000088"/><circle cx="523.3" cy="490.7" r="4.75" fill="#0000FF"/><circle cx="484.8" cy="331.9" r="4.75" fill="#FF6600"/><circle cx="464.1" cy="331.1" r="4.75" fill="#FF3300"/><circle cx="498.8" cy="460.6" r="4.75" fill="#000088"/><circle cx="532.6" cy="469.6" r="4.75" fill="#99CCFF"/><circle cx="637.2" cy="340.0" r="4.75" fill="#33EE33"/><circle cx="488.6" cy="335.1" r="4.75" fill="#FF6600"/><circle cx="658.7" cy="310.6" r="4.75" fill="#66FF99"/><circle cx="631.8" cy="342.5" r="4.75" fill="#33EE33"/><circle cx="578.9" cy="289.5" r="4.75" fill="#006633"/><circle cx="662.6" cy="309.7" r="4.75" fill="#66FF99"/><circle cx="522.3" cy="495.5" r="4.75" fill="#0000FF"/><circle cx="462.8" cy="320.7" r="4.75" fill="#FF3300"/><circle cx="653.6" cy="370.4" r="4.75" fill="#669933"/><circle cx="530.9" cy="465.8" r="4.75" fill="#99CCFF"/><circle cx="639.6" cy="348.0" r="4.75" fill="#33EE33"/><circle cx="498.8" cy="454.0" r="4.75" fill="#000088"/><circle cx="654.4" cy="375.2" r="4.75" fill="#669933"/><circle cx="459.6" cy="322.0" r="4.75" fill="#FF3300"/><circle cx="579.6" cy="290.1" r="4.75" fill="#006633"/><circle cx="658.8" cy="373.3" r="4.75" fill="#669933"/><circle cx="521.9" cy="494.8" r="4.75" fill="#0000FF"/><circle cx="460.4" cy="331.2" r="4.75" fill="#FF3300"/><circle cx="514.0" cy="463.8" r="4.75" fill="#99CCFF"/><circle cx="520.4" cy="467.1" r="4.75" fill="#99CCFF"/><circle cx="498.5" cy="459.7" r="4.75" fill="#000088"/><circle cx="663.9" cy="305.0" r="4.75" fill="#66FF99"/><circle cx="521.9" cy="492.5" r="4.75" fill="#0000FF"/><circle cx="634.9" cy="340.9" r="4.75" fill="#33EE33"/><circle cx="472.3" cy="350.1" r="4.75" fill="#FFCC00"/><circle cx="456.9" cy="323.2" r="4.75" fill="#FF3300"/><circle cx="481.7" cy="343.0" r="4.75" fill="#FF6600"/><circle cx="631.3" cy="344.3" r="4.75" fill="#33EE33"/><circle cx="514.3" cy="488.6" r="4.75" fill="#00F5F5"/><circle cx="492.7" cy="452.0" r="4.75" fill="#000088"/><circle cx="499.5" cy="452.5" r="4.75" fill="#000088"/><circle cx="534.2" cy="469.8" r="4.75" fill="#99CCFF"/><circle cx="653.6" cy="370.2" r="4.75" fill="#669933"/><circle cx="461.7" cy="327.8" r="4.75" fill="#FF3300"/><circle cx="634.6" cy="347.9" r="4.75" fill="#33EE33"/><circle cx="637.4" cy="343.3" r="4.75" fill="#33EE33"/><circle cx="655.5" cy="373.2" r="4.75" fill="#669933"/><circle cx="499.1" cy="454.4" r="4.75" fill="#000088"/><circle cx="521.7" cy="490.8" r="4.75" fill="#0000FF"/><circle cx="657.0" cy="307.9" r="4.75" fill="#66FF99"/><circle cx="472.5" cy="348.5" r="4.75" fill="#FFCC00"/><circle cx="471.4" cy="342.0" r="4.75" fill="#FFCC00"/><circle cx="663.8" cy="310.8" r="4.75" fill="#66FF99"/><circle cx="516.4" cy="498.0" r="4.75" fill="#0000FF"/><circle cx="462.7" cy="327.7" r="4.75" fill="#FF3300"/><circle cx="664.6" cy="305.0" r="4.75" fill="#66FF99"/><circle cx="459.0" cy="321.9" r="4.75" fill="#FF3300"/><circle cx="660.1" cy="313.4" r="4.75" fill="#66FF99"/><circle cx="486.4" cy="343.6" r="4.75" fill="#FF6600"/><circle cx="640.6" cy="348.8" r="4.75" fill="#33EE33"/><circle cx="484.5" cy="331.8" r="4.75" fill="#FF6600"/><circle cx="465.6" cy="317.1" r="4.75" fill="#FF3300"/><circle cx="471.0" cy="340.9" r="4.75" fill="#FFCC00"/><circle cx="657.1" cy="308.8" r="4.75" fill="#66FF99"/><circle cx="464.6" cy="330.1" r="4.75" fill="#FF3300"/><circle cx="530.8" cy="466.4" r="4.75" fill="#99CCFF"/><circle cx="656.5" cy="375.0" r="4.75" fill="#669933"/><circle cx="475.1" cy="341.9" r="4.75" fill="#FFCC00"/><circle cx="586.3" cy="291.8" r="4.75" fill="#006633"/><circle cx="495.3" cy="459.8" r="4.75" fill="#000088"/><circle cx="499.5" cy="457.4" r="4.75" fill="#000088"/><circle cx="520.9" cy="487.5" r="4.75" fill="#0000FF"/><circle cx="516.1" cy="482.5" r="4.75" fill="#330099"/><circle cx="514.2" cy="464.5" r="4.75" fill="#99CCFF"/><circle cx="519.1" cy="463.2" r="4.75" fill="#99CCFF"/><circle cx="494.3" cy="456.9" r="4.75" fill="#000088"/><circle cx="489.6" cy="334.1" r="4.75" fill="#FF6600"/><circle cx="481.2" cy="338.6" r="4.75" fill="#FF6600"/><circle cx="480.6" cy="342.7" r="4.75" fill="#FF6600"/><circle cx="536.2" cy="468.5" r="4.75" fill="#99CCFF"/><circle cx="465.6" cy="317.6" r="4.75" fill="#FF3300"/><circle cx="482.5" cy="345.0" r="4.75" fill="#FF6600"/><circle cx="486.9" cy="333.5" r="4.75" fill="#FF6600"/><circle cx="587.1" cy="290.2" r="4.75" fill="#006633"/><circle cx="480.9" cy="343.0" r="4.75" fill="#FF6600"/><circle cx="529.2" cy="464.1" r="4.75" fill="#99CCFF"/><circle cx="496.0" cy="459.9" r="4.75" fill="#000088"/><circle cx="473.4" cy="347.9" r="4.75" fill="#FFCC00"/><circle cx="519.8" cy="490.9" r="4.75" fill="#0000FF"/><circle cx="458.4" cy="328.9" r="4.75" fill="#FF3300"/><circle cx="580.2" cy="289.4" r="4.75" fill="#006633"/><circle cx="498.8" cy="461.5" r="4.75" fill="#000088"/><circle cx="519.3" cy="482.8" r="4.75" fill="#330099"/><circle cx="469.9" cy="331.4" r="4.75" fill="#FF3300"/><circle cx="585.7" cy="286.6" r="4.75" fill="#006633"/><circle cx="631.7" cy="345.9" r="4.75" fill="#33EE33"/><circle cx="475.7" cy="350.0" r="4.75" fill="#FFCC00"/><circle cx="584.6" cy="287.4" r="4.75" fill="#006633"/><circle cx="632.9" cy="341.1" r="4.75" fill="#33EE33"/><circle cx="464.6" cy="326.7" r="4.75" fill="#FF3300"/><circle cx="652.2" cy="370.2" r="4.75" fill="#669933"/><circle cx="590.6" cy="289.3" r="4.75" fill="#006633"/><circle cx="485.3" cy="337.5" r="4.75" fill="#FF6600"/><circle cx="519.5" cy="483.2" r="4.75" fill="#330099"/><circle cx="580.5" cy="289.3" r="4.75" fill="#006633"/><circle cx="657.4" cy="310.2" r="4.75" fill="#66FF99"/><circle cx="496.8" cy="459.0" r="4.75" fill="#000088"/><circle cx="467.7" cy="342.3" r="4.75" fill="#FFCC00"/><circle cx="657.9" cy="310.0" r="4.75" fill="#66FF99"/><circle cx="469.8" cy="331.1" r="4.75" fill="#FF3300"/><circle cx="463.0" cy="320.0" r="4.75" fill="#FF3300"/><circle cx="578.1" cy="292.4" r="4.75" fill="#006633"/><circle cx="496.4" cy="460.5" r="4.75" fill="#000088"/><circle cx="584.6" cy="287.5" r="4.75" fill="#006633"/><circle cx="588.6" cy="291.0" r="4.75" fill="#006633"/><circle cx="475.6" cy="342.7" r="4.75" fill="#FFCC00"/><circle cx="634.5" cy="347.8" r="4.75" fill="#33EE33"/><circle cx="460.5" cy="323.3" r="4.75" fill="#FF3300"/><circle cx="578.2" cy="290.3" r="4.75" fill="#006633"/><circle cx="481.7" cy="341.6" r="4.75" fill="#FF6600"/><circle cx="521.7" cy="494.7" r="4.75" fill="#0000FF"/><circle cx="486.2" cy="332.7" r="4.75" fill="#FF6600"/><circle cx="521.0" cy="485.5" r="4.75" fill="#0000FF"/><circle cx="458.1" cy="317.6" r="4.75" fill="#FF3300"/><circle cx="535.6" cy="467.2" r="4.75" fill="#99CCFF"/><circle cx="467.3" cy="345.6" r="4.75" fill="#FFCC00"/><circle cx="581.5" cy="291.8" r="4.75" fill="#006633"/><circle cx="493.9" cy="457.4" r="4.75" fill="#000088"/><circle cx="586.7" cy="292.2" r="4.75" fill="#006633"/><circle cx="586.9" cy="290.7" r="4.75" fill="#006633"/><circle cx="519.5" cy="487.1" r="4.75" fill="#0000FF"/><circle cx="532.5" cy="465.5" r="4.75" fill="#99CCFF"/><circle cx="515.6" cy="486.2" r="4.75" fill="#00F5F5"/><circle cx="469.3" cy="333.0" r="4.75" fill="#FF3300"/><circle cx="517.9" cy="482.4" r="4.75" fill="#330099"/><circle cx="494.0" cy="454.9" r="4.75" fill="#000088"/><circle cx="659.1" cy="311.2" r="4.75" fill="#66FF99"/><circle cx="637.4" cy="343.9" r="4.75" fill="#33EE33"/><circle cx="508.7" cy="458.6" r="4.75" fill="#99CCFF"/><circle cx="466.3" cy="346.1" r="4.75" fill="#FFCC00"/><circle cx="481.9" cy="342.2" r="4.75" fill="#FF6600"/><circle cx="465.9" cy="345.8" r="4.75" fill="#FFCC00"/><circle cx="466.5" cy="324.0" r="4.75" fill="#FF3300"/><circle cx="465.0" cy="320.1" r="4.75" fill="#FF3300"/><circle cx="496.4" cy="461.1" r="4.75" fill="#000088"/><circle cx="482.3" cy="344.9" r="4.75" fill="#FF6600"/><circle cx="653.1" cy="370.0" r="4.75" fill="#669933"/><circle cx="579.9" cy="289.3" r="4.75" fill="#006633"/><circle cx="519.6" cy="466.9" r="4.75" fill="#99CCFF"/><circle cx="528.4" cy="462.6" r="4.75" fill="#99CCFF"/><circle cx="465.9" cy="327.2" r="4.75" fill="#FF3300"/><circle cx="655.6" cy="371.1" r="4.75" fill="#669933"/><circle cx="519.3" cy="467.3" r="4.75" fill="#99CCFF"/><circle cx="529.1" cy="463.0" r="4.75" fill="#99CCFF"/><circle cx="465.5" cy="324.3" r="4.75" fill="#FF3300"/><circle cx="529.5" cy="462.5" r="4.75" fill="#99CCFF"/><circle cx="461.3" cy="332.7" r="4.75" fill="#FF3300"/><circle cx="477.0" cy="344.7" r="4.75" fill="#FFCC00"/><circle cx="466.7" cy="321.5" r="4.75" fill="#FF3300"/><circle cx="586.3" cy="293.8" r="4.75" fill="#006633"/><circle cx="461.0" cy="326.0" r="4.75" fill="#FF3300"/><circle cx="632.6" cy="349.2" r="4.75" fill="#33EE33"/><circle cx="462.2" cy="317.2" r="4.75" fill="#FF3300"/><circle cx="654.6" cy="374.6" r="4.75" fill="#669933"/><circle cx="577.6" cy="292.1" r="4.75" fill="#006633"/><circle cx="662.7" cy="305.7" r="4.75" fill="#66FF99"/><circle cx="466.9" cy="347.5" r="4.75" fill="#FFCC00"/><circle cx="526.4" cy="464.9" r="4.75" fill="#99CCFF"/><circle cx="466.4" cy="343.3" r="4.75" fill="#FFCC00"/><circle cx="635.8" cy="340.0" r="4.75" fill="#33EE33"/><circle cx="516.2" cy="490.0" r="4.75" fill="#00F5F5"/><circle cx="634.4" cy="348.8" r="4.75" fill="#33EE33"/><circle cx="466.7" cy="324.3" r="4.75" fill="#FF3300"/><circle cx="488.4" cy="335.4" r="4.75" fill="#FF6600"/><circle cx="520.1" cy="463.7" r="4.75" fill="#99CCFF"/><circle cx="495.9" cy="460.5" r="4.75" fill="#000088"/><circle cx="484.7" cy="332.6" r="4.75" fill="#FF6600"/><circle cx="472.6" cy="351.1" r="4.75" fill="#FFCC00"/><circle cx="658.7" cy="305.9" r="4.75" fill="#66FF99"/><circle cx="471.5" cy="349.9" r="4.75" fill="#FFCC00"/><circle cx="466.8" cy="345.3" r="4.75" fill="#FFCC00"/><circle cx="498.7" cy="449.9" r="4.75" fill="#000088"/><circle cx="495.4" cy="459.3" r="4.75" fill="#000088"/><circle cx="488.7" cy="343.7" r="4.75" fill="#FF6600"/><circle cx="466.1" cy="341.3" r="4.75" fill="#FFCC00"/><circle cx="518.5" cy="483.9" r="4.75" fill="#330099"/><circle cx="656.0" cy="308.6" r="4.75" fill="#66FF99"/><circle cx="466.7" cy="342.5" r="4.75" fill="#FFCC00"/><circle cx="464.9" cy="329.2" r="4.75" fill="#FF3300"/><circle cx="632.2" cy="346.6" r="4.75" fill="#33EE33"/><circle cx="465.9" cy="321.4" r="4.75" fill="#FF3300"/><circle cx="588.1" cy="291.5" r="4.75" fill="#006633"/><circle cx="499.3" cy="457.5" r="4.75" fill="#000088"/><circle cx="493.5" cy="458.0" r="4.75" fill="#000088"/><circle cx="515.9" cy="496.2" r="4.75" fill="#0000FF"/><circle cx="655.9" cy="374.9" r="4.75" fill="#669933"/><circle cx="463.6" cy="319.6" r="4.75" fill="#FF3300"/><circle cx="514.3" cy="486.0" r="4.75" fill="#00F5F5"/><circle cx="520.0" cy="486.0" r="4.75" fill="#0000FF"/><circle cx="492.6" cy="452.5" r="4.75" fill="#000088"/><circle cx="510.7" cy="462.6" r="4.75" fill="#99CCFF"/><circle cx="577.2" cy="291.0" r="4.75" fill="#006633"/><circle cx="656.5" cy="309.9" r="4.75" fill="#66FF99"/><circle cx="467.7" cy="344.4" r="4.75" fill="#FFCC00"/><circle cx="500.0" cy="450.2" r="4.75" fill="#000088"/><circle cx="470.5" cy="332.4" r="4.75" fill="#FF3300"/><circle cx="463.9" cy="320.2" r="4.75" fill="#FF3300"/><circle cx="464.3" cy="330.1" r="4.75" fill="#FF3300"/><circle cx="468.5" cy="345.0" r="4.75" fill="#FFCC00"/><circle cx="468.0" cy="350.9" r="4.75" fill="#FFCC00"/><circle cx="474.0" cy="350.9" r="4.75" fill="#FFCC00"/><circle cx="487.3" cy="334.0" r="4.75" fill="#FF6600"/><circle cx="481.1" cy="343.2" r="4.75" fill="#FF6600"/><circle cx="490.0" cy="340.4" r="4.75" fill="#FF6600"/><circle cx="589.7" cy="289.7" r="4.75" fill="#006633"/><circle cx="581.8" cy="289.6" r="4.75" fill="#006633"/><circle cx="578.9" cy="290.6" r="4.75" fill="#006633"/><circle cx="660.0" cy="313.4" r="4.75" fill="#66FF99"/><circle cx="637.4" cy="342.0" r="4.75" fill="#33EE33"/><circle cx="640.8" cy="348.8" r="4.75" fill="#33EE33"/><circle cx="652.8" cy="369.6" r="4.75" fill="#669933"/><circle cx="498.8" cy="456.6" r="4.75" fill="#000088"/><circle cx="499.3" cy="450.6" r="4.75" fill="#000088"/><circle cx="509.3" cy="458.4" r="4.75" fill="#99CCFF"/><circle cx="519.3" cy="463.4" r="4.75" fill="#99CCFF"/><circle cx="529.4" cy="462.9" r="4.75" fill="#99CCFF"/><circle cx="533.3" cy="469.7" r="4.75" fill="#99CCFF"/><circle cx="515.0" cy="483.9" r="4.75" fill="#330099"/><circle cx="519.7" cy="482.7" r="4.75" fill="#330099"/><circle cx="515.1" cy="488.8" r="4.75" fill="#00F5F5"/><circle cx="522.9" cy="490.4" r="4.75" fill="#0000FF"/><circle cx="523.3" cy="496.0" r="4.75" fill="#0000FF"/><circle cx="517.1" cy="497.0" r="4.75" fill="#0000FF"/></g><g stroke="#333" stroke-width="0.8"><circle cx="655.3" cy="632.5" r="4.75" fill="#669933"/><circle cx="654.1" cy="627.9" r="4.75" fill="#669933"/><circle cx="483.5" cy="593.3" r="4.75" fill="#FF6600"/><circle cx="579.7" cy="547.1" r="4.75" fill="#99FF33"/><circle cx="468.2" cy="583.1" r="4.75" fill="#FF9999"/><circle cx="522.1" cy="750.1" r="4.75" fill="#0000FF"/><circle cx="638.4" cy="607.1" r="4.75" fill="#666633"/><circle cx="474.6" cy="602.7" r="4.75" fill="#FFCC00"/><circle cx="663.7" cy="564.2" r="4.75" fill="#88BB88"/><circle cx="493.7" cy="715.5" r="4.75" fill="#00BFFF"/><circle cx="477.0" cy="609.4" r="4.75" fill="#FFCC00"/><circle cx="475.9" cy="602.2" r="4.75" fill="#FFCC00"/><circle cx="634.3" cy="606.8" r="4.75" fill="#33EE33"/><circle cx="521.3" cy="751.7" r="4.75" fill="#0000FF"/><circle cx="486.5" cy="598.0" r="4.75" fill="#FFCC00"/><circle cx="509.7" cy="721.0" r="4.75" fill="#330099"/><circle cx="463.2" cy="575.1" r="4.75" fill="#FF3300"/><circle cx="496.2" cy="719.4" r="4.75" fill="#00F5F5"/><circle cx="467.1" cy="601.3" r="4.75" fill="#D4A02A"/><circle cx="465.8" cy="578.4" r="4.75" fill="#FF9999"/><circle cx="583.0" cy="551.6" r="4.75" fill="#99FF33"/><circle cx="499.3" cy="716.5" r="4.75" fill="#00BFFF"/><circle cx="462.2" cy="586.4" r="4.75" fill="#FF9999"/><circle cx="588.7" cy="551.1" r="4.75" fill="#006633"/><circle cx="664.7" cy="568.8" r="4.75" fill="#88BB88"/><circle cx="487.5" cy="593.9" r="4.75" fill="#FF6600"/><circle cx="458.3" cy="586.1" r="4.75" fill="#FF3300"/><circle cx="657.8" cy="633.1" r="4.75" fill="#669933"/><circle cx="632.4" cy="603.9" r="4.75" fill="#33EE33"/><circle cx="659.5" cy="569.6" r="4.75" fill="#66FF99"/><circle cx="469.6" cy="604.0" r="4.75" fill="#D4A02A"/><circle cx="517.2" cy="749.5" r="4.75" fill="#330099"/><circle cx="636.8" cy="599.0" r="4.75" fill="#33EE33"/><circle cx="522.2" cy="753.7" r="4.75" fill="#0000FF"/><circle cx="640.5" cy="608.2" r="4.75" fill="#666633"/><circle cx="634.6" cy="599.9" r="4.75" fill="#33EE33"/><circle cx="518.5" cy="753.7" r="4.75" fill="#0000FF"/><circle cx="468.1" cy="604.2" r="4.75" fill="#D4A02A"/><circle cx="581.9" cy="552.7" r="4.75" fill="#99FF33"/><circle cx="501.9" cy="713.0" r="4.75" fill="#000088"/><circle cx="634.7" cy="607.7" r="4.75" fill="#33EE33"/><circle cx="490.3" cy="597.8" r="4.75" fill="#FFCC00"/><circle cx="631.9" cy="604.7" r="4.75" fill="#33EE33"/><circle cx="493.7" cy="717.7" r="4.75" fill="#330099"/><circle cx="660.0" cy="564.6" r="4.75" fill="#88BB88"/><circle cx="533.6" cy="725.4" r="4.75" fill="#00BFFF"/><circle cx="494.9" cy="715.2" r="4.75" fill="#00BFFF"/><circle cx="634.7" cy="600.1" r="4.75" fill="#33EE33"/><circle cx="525.7" cy="724.7" r="4.75" fill="#00F5F5"/><circle cx="526.3" cy="724.5" r="4.75" fill="#00F5F5"/><circle cx="591.3" cy="548.5" r="4.75" fill="#006633"/><circle cx="655.0" cy="630.1" r="4.75" fill="#669933"/><circle cx="663.1" cy="570.7" r="4.75" fill="#88BB88"/><circle cx="637.7" cy="599.5" r="4.75" fill="#33EE33"/><circle cx="489.4" cy="598.6" r="4.75" fill="#FFCC00"/><circle cx="586.7" cy="547.3" r="4.75" fill="#006633"/><circle cx="504.0" cy="719.9" r="4.75" fill="#330099"/><circle cx="497.7" cy="718.6" r="4.75" fill="#330099"/><circle cx="533.3" cy="726.2" r="4.75" fill="#00BFFF"/><circle cx="634.9" cy="600.5" r="4.75" fill="#33EE33"/><circle cx="636.1" cy="599.1" r="4.75" fill="#33EE33"/><circle cx="464.3" cy="590.0" r="4.75" fill="#FF9999"/><circle cx="586.4" cy="553.1" r="4.75" fill="#006633"/><circle cx="500.5" cy="711.7" r="4.75" fill="#000088"/><circle cx="481.7" cy="592.3" r="4.75" fill="#FF6600"/><circle cx="460.0" cy="581.6" r="4.75" fill="#FF9999"/><circle cx="508.7" cy="718.5" r="4.75" fill="#330099"/><circle cx="533.5" cy="728.7" r="4.75" fill="#00BFFF"/><circle cx="661.3" cy="571.6" r="4.75" fill="#66FF99"/><circle cx="638.7" cy="606.8" r="4.75" fill="#666633"/><circle cx="459.7" cy="581.5" r="4.75" fill="#FF9999"/><circle cx="499.5" cy="714.7" r="4.75" fill="#00BFFF"/><circle cx="524.1" cy="749.9" r="4.75" fill="#330099"/><circle cx="485.6" cy="591.1" r="4.75" fill="#FF6600"/><circle cx="464.9" cy="590.3" r="4.75" fill="#FF9999"/><circle cx="499.6" cy="719.8" r="4.75" fill="#00F5F5"/><circle cx="533.4" cy="728.8" r="4.75" fill="#00BFFF"/><circle cx="638.0" cy="599.2" r="4.75" fill="#33EE33"/><circle cx="489.4" cy="594.3" r="4.75" fill="#FF6600"/><circle cx="659.5" cy="569.8" r="4.75" fill="#66FF99"/><circle cx="632.6" cy="601.7" r="4.75" fill="#33EE33"/><circle cx="579.7" cy="548.7" r="4.75" fill="#99FF33"/><circle cx="663.4" cy="568.9" r="4.75" fill="#88BB88"/><circle cx="523.1" cy="754.7" r="4.75" fill="#0000FF"/><circle cx="463.6" cy="579.9" r="4.75" fill="#FF9999"/><circle cx="654.4" cy="629.6" r="4.75" fill="#669933"/><circle cx="531.7" cy="725.0" r="4.75" fill="#00F5F5"/><circle cx="640.4" cy="607.2" r="4.75" fill="#666633"/><circle cx="499.6" cy="713.2" r="4.75" fill="#000088"/><circle cx="655.2" cy="634.4" r="4.75" fill="#669933"/><circle cx="460.4" cy="581.2" r="4.75" fill="#FF9999"/><circle cx="580.4" cy="549.3" r="4.75" fill="#99FF33"/><circle cx="659.6" cy="632.5" r="4.75" fill="#669933"/><circle cx="522.7" cy="754.0" r="4.75" fill="#0000FF"/><circle cx="461.2" cy="590.4" r="4.75" fill="#FF3300"/><circle cx="514.8" cy="723.0" r="4.75" fill="#330099"/><circle cx="521.2" cy="726.3" r="4.75" fill="#99CCFF"/><circle cx="499.3" cy="718.9" r="4.75" fill="#00F5F5"/><circle cx="664.7" cy="564.2" r="4.75" fill="#88BB88"/><circle cx="522.7" cy="751.7" r="4.75" fill="#0000FF"/><circle cx="635.7" cy="600.1" r="4.75" fill="#33EE33"/><circle cx="473.1" cy="609.3" r="4.75" fill="#FFCC00"/><circle cx="457.7" cy="582.4" r="4.75" fill="#FF3300"/><circle cx="482.5" cy="602.2" r="4.75" fill="#FFCC00"/><circle cx="632.1" cy="603.5" r="4.75" fill="#33EE33"/><circle cx="515.1" cy="747.8" r="4.75" fill="#00F5F5"/><circle cx="493.5" cy="711.2" r="4.75" fill="#330099"/><circle cx="500.3" cy="711.7" r="4.75" fill="#000088"/><circle cx="535.0" cy="729.0" r="4.75" fill="#00BFFF"/><circle cx="654.4" cy="629.4" r="4.75" fill="#669933"/><circle cx="462.5" cy="587.0" r="4.75" fill="#FF9999"/><circle cx="635.4" cy="607.1" r="4.75" fill="#33EE33"/><circle cx="638.2" cy="602.5" r="4.75" fill="#666633"/><circle cx="656.3" cy="632.4" r="4.75" fill="#669933"/><circle cx="499.9" cy="713.6" r="4.75" fill="#000088"/><circle cx="522.5" cy="750.0" r="4.75" fill="#0000FF"/><circle cx="657.8" cy="567.1" r="4.75" fill="#88BB88"/><circle cx="473.3" cy="607.7" r="4.75" fill="#FFCC00"/><circle cx="472.2" cy="601.2" r="4.75" fill="#D4A02A"/><circle cx="664.6" cy="570.0" r="4.75" fill="#88BB88"/><circle cx="517.2" cy="757.2" r="4.75" fill="#00F5F5"/><circle cx="463.5" cy="586.9" r="4.75" fill="#FF9999"/><circle cx="665.4" cy="564.2" r="4.75" fill="#88BB88"/><circle cx="459.8" cy="581.1" r="4.75" fill="#FF9999"/><circle cx="660.9" cy="572.6" r="4.75" fill="#66FF99"/><circle cx="487.2" cy="602.8" r="4.75" fill="#FFCC00"/><circle cx="641.4" cy="608.0" r="4.75" fill="#666633"/><circle cx="485.3" cy="591.0" r="4.75" fill="#FF6600"/><circle cx="466.4" cy="576.3" r="4.75" fill="#FF3300"/><circle cx="471.8" cy="600.1" r="4.75" fill="#D4A02A"/><circle cx="657.9" cy="568.0" r="4.75" fill="#88BB88"/><circle cx="465.4" cy="589.3" r="4.75" fill="#FF9999"/><circle cx="531.6" cy="725.6" r="4.75" fill="#00F5F5"/><circle cx="657.3" cy="634.2" r="4.75" fill="#669933"/><circle cx="475.9" cy="601.1" r="4.75" fill="#FFCC00"/><circle cx="587.1" cy="551.0" r="4.75" fill="#006633"/><circle cx="496.1" cy="719.0" r="4.75" fill="#00F5F5"/><circle cx="500.3" cy="716.6" r="4.75" fill="#00BFFF"/><circle cx="521.7" cy="746.7" r="4.75" fill="#0000FF"/><circle cx="516.9" cy="741.7" r="4.75" fill="#330099"/><circle cx="515.0" cy="723.7" r="4.75" fill="#99CCFF"/><circle cx="519.9" cy="722.4" r="4.75" fill="#99CCFF"/><circle cx="495.1" cy="716.1" r="4.75" fill="#330099"/><circle cx="490.4" cy="593.3" r="4.75" fill="#FF6600"/><circle cx="482.0" cy="597.8" r="4.75" fill="#FF6600"/><circle cx="481.4" cy="601.9" r="4.75" fill="#FFCC00"/><circle cx="537.0" cy="727.7" r="4.75" fill="#00BFFF"/><circle cx="466.4" cy="576.8" r="4.75" fill="#FF3300"/><circle cx="483.3" cy="604.2" r="4.75" fill="#FFCC00"/><circle cx="487.7" cy="592.7" r="4.75" fill="#FF6600"/><circle cx="587.9" cy="549.4" r="4.75" fill="#006633"/><circle cx="481.7" cy="602.2" r="4.75" fill="#FFCC00"/><circle cx="530.0" cy="723.3" r="4.75" fill="#00F5F5"/><circle cx="496.8" cy="719.1" r="4.75" fill="#00F5F5"/><circle cx="474.2" cy="607.1" r="4.75" fill="#FFCC00"/><circle cx="520.6" cy="750.1" r="4.75" fill="#0000FF"/><circle cx="459.2" cy="588.1" r="4.75" fill="#FF3300"/><circle cx="581.0" cy="548.6" r="4.75" fill="#99FF33"/><circle cx="499.6" cy="720.7" r="4.75" fill="#00F5F5"/><circle cx="520.1" cy="742.0" r="4.75" fill="#00F5F5"/><circle cx="470.7" cy="590.6" r="4.75" fill="#FF3300"/><circle cx="586.5" cy="545.8" r="4.75" fill="#006633"/><circle cx="632.5" cy="605.1" r="4.75" fill="#33EE33"/><circle cx="476.5" cy="609.2" r="4.75" fill="#FFCC00"/><circle cx="585.4" cy="546.6" r="4.75" fill="#006633"/><circle cx="633.7" cy="600.3" r="4.75" fill="#33EE33"/><circle cx="465.4" cy="585.9" r="4.75" fill="#FF3300"/><circle cx="653.0" cy="629.4" r="4.75" fill="#669933"/><circle cx="591.4" cy="548.5" r="4.75" fill="#006633"/><circle cx="486.1" cy="596.7" r="4.75" fill="#FFCC00"/><circle cx="520.3" cy="742.4" r="4.75" fill="#00F5F5"/><circle cx="581.3" cy="548.5" r="4.75" fill="#99FF33"/><circle cx="658.2" cy="569.4" r="4.75" fill="#66FF99"/><circle cx="497.6" cy="718.2" r="4.75" fill="#00F5F5"/><circle cx="468.5" cy="601.5" r="4.75" fill="#D4A02A"/><circle cx="658.7" cy="569.2" r="4.75" fill="#88BB88"/><circle cx="470.6" cy="590.3" r="4.75" fill="#FF3300"/><circle cx="463.8" cy="579.2" r="4.75" fill="#FF9999"/><circle cx="578.9" cy="551.6" r="4.75" fill="#99FF33"/><circle cx="497.2" cy="719.7" r="4.75" fill="#00F5F5"/><circle cx="585.4" cy="546.7" r="4.75" fill="#006633"/><circle cx="589.4" cy="550.2" r="4.75" fill="#006633"/><circle cx="476.4" cy="601.9" r="4.75" fill="#FFCC00"/><circle cx="635.3" cy="607.0" r="4.75" fill="#33EE33"/><circle cx="461.3" cy="582.5" r="4.75" fill="#FF9999"/><circle cx="579.0" cy="549.5" r="4.75" fill="#99FF33"/><circle cx="482.5" cy="600.8" r="4.75" fill="#FFCC00"/><circle cx="522.5" cy="753.9" r="4.75" fill="#0000FF"/><circle cx="487.0" cy="591.9" r="4.75" fill="#FF6600"/><circle cx="521.8" cy="744.7" r="4.75" fill="#0000FF"/><circle cx="458.9" cy="576.8" r="4.75" fill="#FF3300"/><circle cx="536.4" cy="726.4" r="4.75" fill="#00BFFF"/><circle cx="468.1" cy="604.8" r="4.75" fill="#D4A02A"/><circle cx="582.3" cy="551.0" r="4.75" fill="#99FF33"/><circle cx="494.7" cy="716.6" r="4.75" fill="#00BFFF"/><circle cx="587.5" cy="551.4" r="4.75" fill="#006633"/><circle cx="587.7" cy="549.9" r="4.75" fill="#006633"/><circle cx="520.3" cy="746.3" r="4.75" fill="#0000FF"/><circle cx="533.3" cy="724.7" r="4.75" fill="#00F5F5"/><circle cx="516.4" cy="745.4" r="4.75" fill="#330099"/><circle cx="470.1" cy="592.2" r="4.75" fill="#FF3300"/><circle cx="518.7" cy="741.6" r="4.75" fill="#330099"/><circle cx="494.8" cy="714.1" r="4.75" fill="#00F5F5"/><circle cx="659.9" cy="570.4" r="4.75" fill="#66FF99"/><circle cx="638.2" cy="603.1" r="4.75" fill="#666633"/><circle cx="509.5" cy="717.8" r="4.75" fill="#330099"/><circle cx="467.1" cy="605.3" r="4.75" fill="#D4A02A"/><circle cx="482.7" cy="601.4" r="4.75" fill="#FFCC00"/><circle cx="466.7" cy="605.0" r="4.75" fill="#D4A02A"/><circle cx="467.3" cy="583.2" r="4.75" fill="#FF9999"/><circle cx="465.8" cy="579.3" r="4.75" fill="#FF9999"/><circle cx="497.2" cy="720.3" r="4.75" fill="#330099"/><circle cx="483.1" cy="604.1" r="4.75" fill="#FFCC00"/><circle cx="653.9" cy="629.2" r="4.75" fill="#669933"/><circle cx="580.7" cy="548.5" r="4.75" fill="#99FF33"/><circle cx="520.4" cy="726.1" r="4.75" fill="#99CCFF"/><circle cx="529.2" cy="721.8" r="4.75" fill="#00F5F5"/><circle cx="466.7" cy="586.4" r="4.75" fill="#FF3300"/><circle cx="656.4" cy="630.3" r="4.75" fill="#669933"/><circle cx="520.1" cy="726.5" r="4.75" fill="#99CCFF"/><circle cx="529.9" cy="722.2" r="4.75" fill="#00F5F5"/><circle cx="466.3" cy="583.5" r="4.75" fill="#FF9999"/><circle cx="530.3" cy="721.7" r="4.75" fill="#00F5F5"/><circle cx="462.1" cy="591.9" r="4.75" fill="#FF3300"/><circle cx="477.8" cy="603.9" r="4.75" fill="#FFCC00"/><circle cx="467.5" cy="580.7" r="4.75" fill="#FF3300"/><circle cx="587.1" cy="553.0" r="4.75" fill="#006633"/><circle cx="461.8" cy="585.2" r="4.75" fill="#FF9999"/><circle cx="633.4" cy="608.4" r="4.75" fill="#33EE33"/><circle cx="463.0" cy="576.4" r="4.75" fill="#FF3300"/><circle cx="655.4" cy="633.8" r="4.75" fill="#669933"/><circle cx="578.4" cy="551.3" r="4.75" fill="#99FF33"/><circle cx="663.5" cy="564.9" r="4.75" fill="#88BB88"/><circle cx="467.7" cy="606.7" r="4.75" fill="#FFCC00"/><circle cx="527.2" cy="724.1" r="4.75" fill="#00F5F5"/><circle cx="467.2" cy="602.5" r="4.75" fill="#D4A02A"/><circle cx="636.6" cy="599.2" r="4.75" fill="#33EE33"/><circle cx="517.0" cy="749.2" r="4.75" fill="#00F5F5"/><circle cx="635.2" cy="608.0" r="4.75" fill="#33EE33"/><circle cx="467.5" cy="583.5" r="4.75" fill="#FF9999"/><circle cx="489.2" cy="594.6" r="4.75" fill="#FF6600"/><circle cx="520.9" cy="722.9" r="4.75" fill="#99CCFF"/><circle cx="496.7" cy="719.7" r="4.75" fill="#00F5F5"/><circle cx="485.5" cy="591.8" r="4.75" fill="#FF6600"/><circle cx="473.4" cy="610.3" r="4.75" fill="#FFCC00"/><circle cx="659.5" cy="565.1" r="4.75" fill="#88BB88"/><circle cx="472.3" cy="609.1" r="4.75" fill="#FFCC00"/><circle cx="467.6" cy="604.5" r="4.75" fill="#D4A02A"/><circle cx="499.5" cy="709.1" r="4.75" fill="#000088"/><circle cx="496.2" cy="718.5" r="4.75" fill="#00F5F5"/><circle cx="489.5" cy="602.9" r="4.75" fill="#FFCC00"/><circle cx="466.9" cy="600.5" r="4.75" fill="#D4A02A"/><circle cx="519.3" cy="743.1" r="4.75" fill="#00F5F5"/><circle cx="656.8" cy="567.8" r="4.75" fill="#88BB88"/><circle cx="467.5" cy="601.7" r="4.75" fill="#D4A02A"/><circle cx="465.7" cy="588.4" r="4.75" fill="#FF9999"/><circle cx="633.0" cy="605.8" r="4.75" fill="#33EE33"/><circle cx="466.7" cy="580.6" r="4.75" fill="#FF3300"/><circle cx="588.9" cy="550.7" r="4.75" fill="#006633"/><circle cx="500.1" cy="716.7" r="4.75" fill="#00BFFF"/><circle cx="494.3" cy="717.2" r="4.75" fill="#330099"/><circle cx="516.7" cy="755.4" r="4.75" fill="#00F5F5"/><circle cx="656.7" cy="634.1" r="4.75" fill="#669933"/><circle cx="464.4" cy="578.8" r="4.75" fill="#FF9999"/><circle cx="515.1" cy="745.2" r="4.75" fill="#330099"/><circle cx="520.8" cy="745.2" r="4.75" fill="#0000FF"/><circle cx="493.4" cy="711.7" r="4.75" fill="#330099"/><circle cx="511.5" cy="721.8" r="4.75" fill="#330099"/><circle cx="578.0" cy="550.2" r="4.75" fill="#99FF33"/><circle cx="657.3" cy="569.1" r="4.75" fill="#88BB88"/><circle cx="468.5" cy="603.6" r="4.75" fill="#D4A02A"/><circle cx="500.8" cy="709.4" r="4.75" fill="#000088"/><circle cx="471.3" cy="591.6" r="4.75" fill="#FF3300"/><circle cx="464.7" cy="579.4" r="4.75" fill="#FF9999"/><circle cx="465.1" cy="589.3" r="4.75" fill="#FF9999"/><circle cx="469.3" cy="604.2" r="4.75" fill="#D4A02A"/><circle cx="468.8" cy="610.1" r="4.75" fill="#FFCC00"/><circle cx="474.8" cy="610.1" r="4.75" fill="#FFCC00"/><circle cx="488.1" cy="593.2" r="4.75" fill="#FF6600"/><circle cx="481.9" cy="602.4" r="4.75" fill="#FFCC00"/><circle cx="490.8" cy="599.6" r="4.75" fill="#FFCC00"/><circle cx="590.5" cy="548.9" r="4.75" fill="#006633"/><circle cx="582.6" cy="548.8" r="4.75" fill="#99FF33"/><circle cx="579.7" cy="549.8" r="4.75" fill="#99FF33"/><circle cx="660.8" cy="572.6" r="4.75" fill="#66FF99"/><circle cx="638.2" cy="601.2" r="4.75" fill="#666633"/><circle cx="641.6" cy="608.0" r="4.75" fill="#666633"/><circle cx="653.6" cy="628.8" r="4.75" fill="#669933"/><circle cx="499.6" cy="715.8" r="4.75" fill="#00BFFF"/><circle cx="500.1" cy="709.8" r="4.75" fill="#000088"/><circle cx="510.1" cy="717.6" r="4.75" fill="#330099"/><circle cx="520.1" cy="722.6" r="4.75" fill="#99CCFF"/><circle cx="530.2" cy="722.1" r="4.75" fill="#00F5F5"/><circle cx="534.1" cy="728.9" r="4.75" fill="#00BFFF"/><circle cx="515.8" cy="743.1" r="4.75" fill="#330099"/><circle cx="520.5" cy="741.9" r="4.75" fill="#00F5F5"/><circle cx="515.9" cy="748.0" r="4.75" fill="#00F5F5"/><circle cx="523.7" cy="749.6" r="4.75" fill="#330099"/><circle cx="524.1" cy="755.2" r="4.75" fill="#0000FF"/><circle cx="517.9" cy="756.2" r="4.75" fill="#00F5F5"/></g><text x="500.4" y="104.0" font-size="15.4" fill="#000" text-anchor="start" stroke="#000" stroke-width="0.25">NET</text><text x="572.2" y="63.3" font-size="15.2" fill="#000" text-anchor="start" stroke="#000" stroke-width="0.25">Adenoma</text><text x="549.3" y="209.3" font-size="15.2" fill="#000" text-anchor="start" stroke="#000" stroke-width="0.25">PitNET/</text><text x="549.3" y="222.7" font-size="15.2" fill="#000" text-anchor="start" stroke="#000" stroke-width="0.25">adenoma</text><text x="455.6" y="240.6" font-size="15.9" fill="#6a6a6a" text-anchor="start" >UMAP</text><text x="455.0" y="305.6" font-size="12" fill="#000" text-anchor="start" stroke="#000" stroke-width="0.5">LuNET</text><text x="503.0" y="343.7" font-size="12" fill="#000" text-anchor="start" stroke="#000" stroke-width="0.5">SiNET</text><text x="464.0" y="369.6" font-size="12" fill="#000" text-anchor="start" stroke="#000" stroke-width="0.5">PanNET</text><text x="556.3" y="310.6" font-size="12" fill="#000" text-anchor="start" stroke="#000" stroke-width="0.5">CRA</text><text x="627.2" y="319.7" font-size="12" fill="#000" text-anchor="start" stroke="#000" stroke-width="0.5">FTA</text><text x="605.0" y="358.8" font-size="12" fill="#000" text-anchor="start" stroke="#000" stroke-width="0.5">PLA</text><text x="624.5" y="390.6" font-size="12" fill="#000" text-anchor="start" stroke="#000" stroke-width="0.5">ACA</text><text x="474.8" y="442.9" font-size="12" fill="#000" text-anchor="start" stroke="#000" stroke-width="0.5">SF1+</text><text x="540.1" y="461.8" font-size="12" fill="#000" text-anchor="start" stroke="#000" stroke-width="0.5">TPIT+</text><text x="532.4" y="499.0" font-size="12" fill="#000" text-anchor="start" stroke="#000" stroke-width="0.5">PIT1+</text><text x="454.6" y="497.9" font-size="15.9" fill="#6a6a6a" text-anchor="start" >UMAP</text><text x="476.6" y="583.3" font-size="11.35" fill="#000" text-anchor="start" >Werr et al.</text><text x="496.9" y="595.8" font-size="11.35" fill="#000" text-anchor="start" >Patte et al.</text><text x="488.6" y="616.1" font-size="11.35" fill="#000" text-anchor="start" >Tirosh et al.</text><text x="454.7" y="627.5" font-size="11.35" fill="#000" text-anchor="start" >Chan et al.</text><text x="598.0" y="555.9" font-size="11.35" fill="#000" text-anchor="start" >Fiedler et al.</text><text x="540.9" y="567.1" font-size="11.35" fill="#000" text-anchor="start" >Bhandari et al.</text><text x="576.8" y="577.7" font-size="11.35" fill="#000" text-anchor="start" >Dos Reis et al.</text><text x="553.6" y="587.7" font-size="11.35" fill="#000" text-anchor="start" >Rodríguez-Rodero et al.</text><text x="546.2" y="607.8" font-size="11.35" fill="#000" text-anchor="start" >Jurmeister et al.</text><text x="568.4" y="625.4" font-size="11.35" fill="#000" text-anchor="start" >Uro Coste et al.</text><text x="614.3" y="647.6" font-size="11.35" fill="#000" text-anchor="start" >Bueno et al.</text><text x="461.7" y="701.2" font-size="11.35" fill="#000" text-anchor="start" >Kober et al.</text><text x="518.2" y="713.0" font-size="11.35" fill="#000" text-anchor="start" >Silva-Júnior et al.</text><text x="543.8" y="729.6" font-size="11.35" fill="#000" text-anchor="start" >Salomon et al.</text><text x="451.4" y="735.2" font-size="11.35" fill="#000" text-anchor="start" >Capper et al.</text><text x="532.4" y="746.4" font-size="11.35" fill="#000" text-anchor="start" >Neou et al.</text><text x="532.4" y="758.7" font-size="11.35" fill="#000" text-anchor="start" >Dottermusch et al.</text><text x="455.1" y="756.8" font-size="15.9" fill="#6a6a6a" text-anchor="start" >UMAP</text></svg></body></html>
